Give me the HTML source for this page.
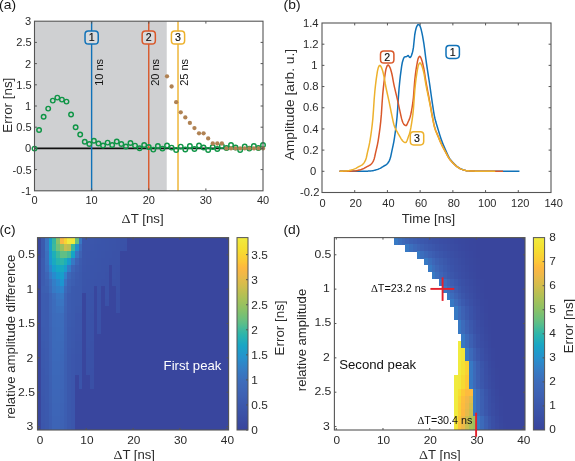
<!DOCTYPE html>
<html lang="en"><head><meta charset="utf-8"><title>Figure: peak-separation error analysis</title>
<style>html,body{margin:0;padding:0;background:#fff;}svg{display:block;}text{font-family:"Liberation Sans", sans-serif;}</style></head><body>
<svg width="575" height="461" viewBox="0 0 575 461">
<rect x="0" y="0" width="575" height="461" fill="#ffffff"/>
<text x="-0.90" y="9.40" font-size="12.6" text-anchor="start" fill="#151515" textLength="16.94" lengthAdjust="spacingAndGlyphs" >(a)</text>
<text x="283.60" y="9.40" font-size="12.6" text-anchor="start" fill="#151515" textLength="16.94" lengthAdjust="spacingAndGlyphs" >(b)</text>
<text x="-0.50" y="234.20" font-size="12.6" text-anchor="start" fill="#151515" textLength="16.16" lengthAdjust="spacingAndGlyphs" >(c)</text>
<text x="283.40" y="234.20" font-size="12.6" text-anchor="start" fill="#151515" textLength="16.94" lengthAdjust="spacingAndGlyphs" >(d)</text>
<g id="panel-a">
<rect x="34.50" y="21.20" width="132.24" height="169.60" fill="#cfd0d2" stroke="none" stroke-width="0.7" />
<line x1="34.50" y1="148.40" x2="263.00" y2="148.40" stroke="#111" stroke-width="1.6" />
<line x1="91.62" y1="21.20" x2="91.62" y2="190.80" stroke="#1072b8" stroke-width="1.4" />
<line x1="148.75" y1="21.20" x2="148.75" y2="190.80" stroke="#d9582a" stroke-width="1.4" />
<line x1="178.01" y1="21.20" x2="178.01" y2="190.80" stroke="#edb12c" stroke-width="1.4" />
<circle cx="34.50" cy="148.60" r="2.25" fill="none" stroke="#0f9546" stroke-width="1.45"/>
<circle cx="39.07" cy="130.00" r="2.25" fill="none" stroke="#0f9546" stroke-width="1.45"/>
<circle cx="43.64" cy="116.80" r="2.25" fill="none" stroke="#0f9546" stroke-width="1.45"/>
<circle cx="48.21" cy="108.60" r="2.25" fill="none" stroke="#0f9546" stroke-width="1.45"/>
<circle cx="52.78" cy="100.60" r="2.25" fill="none" stroke="#0f9546" stroke-width="1.45"/>
<circle cx="57.35" cy="97.60" r="2.25" fill="none" stroke="#0f9546" stroke-width="1.45"/>
<circle cx="61.92" cy="99.60" r="2.25" fill="none" stroke="#0f9546" stroke-width="1.45"/>
<circle cx="66.49" cy="101.60" r="2.25" fill="none" stroke="#0f9546" stroke-width="1.45"/>
<circle cx="71.06" cy="114.40" r="2.25" fill="none" stroke="#0f9546" stroke-width="1.45"/>
<circle cx="75.63" cy="127.20" r="2.25" fill="none" stroke="#0f9546" stroke-width="1.45"/>
<circle cx="80.20" cy="134.40" r="2.25" fill="none" stroke="#0f9546" stroke-width="1.45"/>
<circle cx="84.77" cy="141.80" r="2.25" fill="none" stroke="#0f9546" stroke-width="1.45"/>
<circle cx="89.34" cy="144.00" r="2.25" fill="none" stroke="#0f9546" stroke-width="1.45"/>
<circle cx="93.91" cy="140.80" r="2.25" fill="none" stroke="#0f9546" stroke-width="1.45"/>
<circle cx="98.48" cy="143.40" r="2.25" fill="none" stroke="#0f9546" stroke-width="1.45"/>
<circle cx="103.05" cy="145.40" r="2.25" fill="none" stroke="#0f9546" stroke-width="1.45"/>
<circle cx="107.62" cy="142.60" r="2.25" fill="none" stroke="#0f9546" stroke-width="1.45"/>
<circle cx="112.19" cy="145.00" r="2.25" fill="none" stroke="#0f9546" stroke-width="1.45"/>
<circle cx="116.76" cy="141.40" r="2.25" fill="none" stroke="#0f9546" stroke-width="1.45"/>
<circle cx="121.33" cy="144.00" r="2.25" fill="none" stroke="#0f9546" stroke-width="1.45"/>
<circle cx="125.90" cy="146.40" r="2.25" fill="none" stroke="#0f9546" stroke-width="1.45"/>
<circle cx="130.47" cy="143.00" r="2.25" fill="none" stroke="#0f9546" stroke-width="1.45"/>
<circle cx="135.04" cy="145.60" r="2.25" fill="none" stroke="#0f9546" stroke-width="1.45"/>
<circle cx="139.61" cy="148.20" r="2.25" fill="none" stroke="#0f9546" stroke-width="1.45"/>
<circle cx="144.18" cy="145.00" r="2.25" fill="none" stroke="#0f9546" stroke-width="1.45"/>
<circle cx="148.75" cy="147.00" r="2.25" fill="none" stroke="#0f9546" stroke-width="1.45"/>
<circle cx="153.32" cy="149.60" r="2.25" fill="none" stroke="#0f9546" stroke-width="1.45"/>
<circle cx="157.89" cy="146.00" r="2.25" fill="none" stroke="#0f9546" stroke-width="1.45"/>
<circle cx="162.46" cy="148.60" r="2.25" fill="none" stroke="#0f9546" stroke-width="1.45"/>
<circle cx="167.03" cy="145.40" r="2.25" fill="none" stroke="#0f9546" stroke-width="1.45"/>
<circle cx="171.60" cy="147.60" r="2.25" fill="none" stroke="#0f9546" stroke-width="1.45"/>
<circle cx="176.17" cy="150.00" r="2.25" fill="none" stroke="#0f9546" stroke-width="1.45"/>
<circle cx="180.74" cy="146.60" r="2.25" fill="none" stroke="#0f9546" stroke-width="1.45"/>
<circle cx="185.31" cy="149.40" r="2.25" fill="none" stroke="#0f9546" stroke-width="1.45"/>
<circle cx="189.88" cy="146.00" r="2.25" fill="none" stroke="#0f9546" stroke-width="1.45"/>
<circle cx="194.45" cy="149.00" r="2.25" fill="none" stroke="#0f9546" stroke-width="1.45"/>
<circle cx="199.02" cy="145.40" r="2.25" fill="none" stroke="#0f9546" stroke-width="1.45"/>
<circle cx="203.59" cy="147.40" r="2.25" fill="none" stroke="#0f9546" stroke-width="1.45"/>
<circle cx="208.16" cy="150.00" r="2.25" fill="none" stroke="#0f9546" stroke-width="1.45"/>
<circle cx="212.73" cy="147.00" r="2.25" fill="none" stroke="#0f9546" stroke-width="1.45"/>
<circle cx="217.30" cy="149.00" r="2.25" fill="none" stroke="#0f9546" stroke-width="1.45"/>
<circle cx="221.87" cy="146.00" r="2.25" fill="none" stroke="#0f9546" stroke-width="1.45"/>
<circle cx="226.44" cy="148.00" r="2.25" fill="none" stroke="#0f9546" stroke-width="1.45"/>
<circle cx="231.01" cy="145.00" r="2.25" fill="none" stroke="#0f9546" stroke-width="1.45"/>
<circle cx="235.58" cy="147.40" r="2.25" fill="none" stroke="#0f9546" stroke-width="1.45"/>
<circle cx="240.15" cy="150.00" r="2.25" fill="none" stroke="#0f9546" stroke-width="1.45"/>
<circle cx="244.72" cy="146.40" r="2.25" fill="none" stroke="#0f9546" stroke-width="1.45"/>
<circle cx="249.29" cy="148.60" r="2.25" fill="none" stroke="#0f9546" stroke-width="1.45"/>
<circle cx="253.86" cy="146.00" r="2.25" fill="none" stroke="#0f9546" stroke-width="1.45"/>
<circle cx="258.43" cy="148.00" r="2.25" fill="none" stroke="#0f9546" stroke-width="1.45"/>
<circle cx="263.00" cy="145.00" r="2.25" fill="none" stroke="#0f9546" stroke-width="1.45"/>
<circle cx="167.03" cy="76.32" r="2.15" fill="#b08253"/>
<circle cx="171.60" cy="86.50" r="2.15" fill="#b08253"/>
<circle cx="176.17" cy="102.18" r="2.15" fill="#b08253"/>
<circle cx="180.74" cy="112.36" r="2.15" fill="#b08253"/>
<circle cx="185.31" cy="117.45" r="2.15" fill="#b08253"/>
<circle cx="189.88" cy="122.96" r="2.15" fill="#b08253"/>
<circle cx="194.45" cy="128.05" r="2.15" fill="#b08253"/>
<circle cx="199.02" cy="133.35" r="2.15" fill="#b08253"/>
<circle cx="203.59" cy="133.35" r="2.15" fill="#b08253"/>
<circle cx="208.16" cy="138.44" r="2.15" fill="#b08253"/>
<circle cx="212.73" cy="143.52" r="2.15" fill="#b08253"/>
<circle cx="217.30" cy="143.52" r="2.15" fill="#b08253"/>
<circle cx="221.87" cy="143.52" r="2.15" fill="#b08253"/>
<circle cx="226.44" cy="148.40" r="2.15" fill="#b08253"/>
<circle cx="231.01" cy="148.40" r="2.15" fill="#b08253"/>
<circle cx="235.58" cy="148.40" r="2.15" fill="#b08253"/>
<circle cx="240.15" cy="148.40" r="2.15" fill="#b08253"/>
<circle cx="244.72" cy="148.40" r="2.15" fill="#b08253"/>
<circle cx="249.29" cy="148.40" r="2.15" fill="#b08253"/>
<circle cx="253.86" cy="148.40" r="2.15" fill="#b08253"/>
<circle cx="258.43" cy="148.40" r="2.15" fill="#b08253"/>
<circle cx="263.00" cy="148.40" r="2.15" fill="#b08253"/>
<rect x="34.50" y="21.20" width="228.50" height="169.60" fill="none" stroke="#555555" stroke-width="1.1" />
<line x1="91.62" y1="190.80" x2="91.62" y2="188.40" stroke="#555555" stroke-width="1.0" />
<line x1="91.62" y1="21.20" x2="91.62" y2="23.60" stroke="#555555" stroke-width="1.0" />
<line x1="148.75" y1="190.80" x2="148.75" y2="188.40" stroke="#555555" stroke-width="1.0" />
<line x1="148.75" y1="21.20" x2="148.75" y2="23.60" stroke="#555555" stroke-width="1.0" />
<line x1="205.88" y1="190.80" x2="205.88" y2="188.40" stroke="#555555" stroke-width="1.0" />
<line x1="205.88" y1="21.20" x2="205.88" y2="23.60" stroke="#555555" stroke-width="1.0" />
<line x1="34.50" y1="169.60" x2="36.90" y2="169.60" stroke="#555555" stroke-width="1.0" />
<line x1="263.00" y1="169.60" x2="260.60" y2="169.60" stroke="#555555" stroke-width="1.0" />
<line x1="34.50" y1="148.40" x2="36.90" y2="148.40" stroke="#555555" stroke-width="1.0" />
<line x1="263.00" y1="148.40" x2="260.60" y2="148.40" stroke="#555555" stroke-width="1.0" />
<line x1="34.50" y1="127.20" x2="36.90" y2="127.20" stroke="#555555" stroke-width="1.0" />
<line x1="263.00" y1="127.20" x2="260.60" y2="127.20" stroke="#555555" stroke-width="1.0" />
<line x1="34.50" y1="106.00" x2="36.90" y2="106.00" stroke="#555555" stroke-width="1.0" />
<line x1="263.00" y1="106.00" x2="260.60" y2="106.00" stroke="#555555" stroke-width="1.0" />
<line x1="34.50" y1="84.80" x2="36.90" y2="84.80" stroke="#555555" stroke-width="1.0" />
<line x1="263.00" y1="84.80" x2="260.60" y2="84.80" stroke="#555555" stroke-width="1.0" />
<line x1="34.50" y1="63.60" x2="36.90" y2="63.60" stroke="#555555" stroke-width="1.0" />
<line x1="263.00" y1="63.60" x2="260.60" y2="63.60" stroke="#555555" stroke-width="1.0" />
<line x1="34.50" y1="42.40" x2="36.90" y2="42.40" stroke="#555555" stroke-width="1.0" />
<line x1="263.00" y1="42.40" x2="260.60" y2="42.40" stroke="#555555" stroke-width="1.0" />
<rect x="85.03" y="31.10" width="13.20" height="12.90" fill="#d9dadc" stroke="#1072b8" stroke-width="1.5" rx="3.3" ry="3.3"/>
<text x="91.62" y="41.10" font-size="10.0" text-anchor="middle" fill="#111" textLength="5.90" lengthAdjust="spacingAndGlyphs" stroke="#111" stroke-width="0.15">1</text>
<text x="103.22" y="85.80" font-size="10" text-anchor="start" fill="#111" transform="rotate(-90 103.22 85.80)" textLength="26.80" lengthAdjust="spacingAndGlyphs" >10 ns</text>
<rect x="142.15" y="31.10" width="13.20" height="12.90" fill="#d9dadc" stroke="#d9582a" stroke-width="1.5" rx="3.3" ry="3.3"/>
<text x="148.75" y="41.10" font-size="10.0" text-anchor="middle" fill="#111" textLength="5.90" lengthAdjust="spacingAndGlyphs" stroke="#111" stroke-width="0.15">2</text>
<text x="159.25" y="85.80" font-size="10" text-anchor="start" fill="#111" transform="rotate(-90 159.25 85.80)" textLength="26.80" lengthAdjust="spacingAndGlyphs" >20 ns</text>
<rect x="171.41" y="31.10" width="13.20" height="12.90" fill="#ffffff" stroke="#edb12c" stroke-width="1.5" rx="3.3" ry="3.3"/>
<text x="178.01" y="41.10" font-size="10.0" text-anchor="middle" fill="#111" textLength="5.90" lengthAdjust="spacingAndGlyphs" stroke="#111" stroke-width="0.15">3</text>
<text x="188.31" y="85.80" font-size="10" text-anchor="start" fill="#111" transform="rotate(-90 188.31 85.80)" textLength="26.80" lengthAdjust="spacingAndGlyphs" >25 ns</text>
<text x="31.10" y="194.70" font-size="10.3" text-anchor="end" fill="#2a2a2a" textLength="9.89" lengthAdjust="spacingAndGlyphs" >-1</text>
<text x="31.80" y="173.50" font-size="10.3" text-anchor="end" fill="#2a2a2a" textLength="19.17" lengthAdjust="spacingAndGlyphs" >-0.5</text>
<text x="31.10" y="152.30" font-size="10.3" text-anchor="end" fill="#2a2a2a" textLength="6.19" lengthAdjust="spacingAndGlyphs" >0</text>
<text x="31.80" y="131.10" font-size="10.3" text-anchor="end" fill="#2a2a2a" textLength="15.46" lengthAdjust="spacingAndGlyphs" >0.5</text>
<text x="31.10" y="109.90" font-size="10.3" text-anchor="end" fill="#2a2a2a" textLength="6.19" lengthAdjust="spacingAndGlyphs" >1</text>
<text x="31.80" y="88.70" font-size="10.3" text-anchor="end" fill="#2a2a2a" textLength="15.46" lengthAdjust="spacingAndGlyphs" >1.5</text>
<text x="31.10" y="67.50" font-size="10.3" text-anchor="end" fill="#2a2a2a" textLength="6.19" lengthAdjust="spacingAndGlyphs" >2</text>
<text x="31.80" y="46.30" font-size="10.3" text-anchor="end" fill="#2a2a2a" textLength="15.46" lengthAdjust="spacingAndGlyphs" >2.5</text>
<text x="31.10" y="25.10" font-size="10.3" text-anchor="end" fill="#2a2a2a" textLength="6.19" lengthAdjust="spacingAndGlyphs" >3</text>
<text x="34.50" y="203.50" font-size="10.2" text-anchor="middle" fill="#2a2a2a" textLength="6.13" lengthAdjust="spacingAndGlyphs" >0</text>
<text x="91.62" y="203.50" font-size="10.2" text-anchor="middle" fill="#2a2a2a" textLength="12.25" lengthAdjust="spacingAndGlyphs" >10</text>
<text x="148.75" y="203.50" font-size="10.2" text-anchor="middle" fill="#2a2a2a" textLength="12.25" lengthAdjust="spacingAndGlyphs" >20</text>
<text x="205.88" y="203.50" font-size="10.2" text-anchor="middle" fill="#2a2a2a" textLength="12.25" lengthAdjust="spacingAndGlyphs" >30</text>
<text x="263.00" y="203.50" font-size="10.2" text-anchor="middle" fill="#2a2a2a" textLength="12.25" lengthAdjust="spacingAndGlyphs" >40</text>
<text x="11.60" y="105.20" font-size="12.6" text-anchor="middle" fill="#2a2a2a" transform="rotate(-90 11.60 105.20)" textLength="55.00" lengthAdjust="spacingAndGlyphs" >Error [ns]</text>
<text x="142.60" y="223.20" font-size="12.6" text-anchor="middle" fill="#2a2a2a" textLength="42.00" lengthAdjust="spacingAndGlyphs" ><tspan font-family="Liberation Serif, serif" font-size="13.4">Δ</tspan>T [ns]</text>
</g>
<g id="panel-b">
<path d="M339.50,171.31 L340.16,171.31 L340.81,171.31 L341.46,171.31 L342.12,171.31 L342.77,171.31 L343.43,171.31 L344.08,171.31 L344.74,171.31 L345.39,171.31 L346.05,171.31 L346.70,171.31 L347.35,171.31 L348.01,171.31 L348.66,171.31 L349.32,171.31 L349.97,171.31 L350.62,171.31 L351.28,171.31 L351.93,171.31 L352.59,171.31 L353.24,171.31 L353.90,171.31 L354.55,171.31 L355.21,171.31 L355.86,171.31 L356.51,171.31 L357.17,171.31 L357.82,171.31 L358.48,171.30 L359.13,171.30 L359.79,171.29 L360.44,171.29 L361.09,171.28 L361.75,171.28 L362.40,171.27 L363.06,171.26 L363.71,171.25 L364.37,171.24 L365.02,171.23 L365.67,171.21 L366.33,171.18 L366.98,171.16 L367.64,171.13 L368.29,171.10 L368.95,171.06 L369.60,171.02 L370.25,170.97 L370.91,170.93 L371.56,170.87 L372.22,170.79 L372.87,170.67 L373.53,170.53 L374.18,170.37 L374.83,170.20 L375.49,170.02 L376.14,169.84 L376.80,169.64 L377.45,169.42 L378.11,169.18 L378.76,168.92 L379.41,168.65 L380.07,168.33 L380.72,167.98 L381.38,167.60 L382.03,167.20 L382.69,166.79 L383.34,166.39 L383.99,166.02 L384.65,165.65 L385.30,165.27 L385.96,164.85 L386.61,164.36 L387.27,163.76 L387.92,163.01 L388.57,162.04 L389.23,160.84 L389.88,159.38 L390.54,157.35 L391.19,154.34 L391.85,151.08 L392.50,148.10 L393.15,145.10 L393.81,141.80 L394.46,137.92 L395.12,133.45 L395.77,128.48 L396.43,123.01 L397.08,116.63 L397.73,108.03 L398.39,97.42 L399.04,88.69 L399.70,81.83 L400.35,75.91 L401.01,70.84 L401.66,66.16 L402.31,62.50 L402.97,60.19 L403.62,58.27 L404.28,57.17 L404.93,56.86 L405.59,56.80 L406.24,56.74 L406.89,56.33 L407.55,55.72 L408.20,55.56 L408.86,56.40 L409.51,57.38 L410.17,57.58 L410.82,56.85 L411.47,55.46 L412.13,53.57 L412.78,51.10 L413.44,47.40 L414.09,41.01 L414.75,34.75 L415.40,31.14 L416.05,28.48 L416.71,26.61 L417.36,25.40 L418.02,24.54 L418.67,24.67 L419.33,25.06 L419.98,25.88 L420.63,27.64 L421.29,30.07 L421.94,32.82 L422.60,36.10 L423.25,39.90 L423.91,43.98 L424.56,48.64 L425.21,53.88 L425.87,59.02 L426.52,63.64 L427.18,68.03 L427.83,72.29 L428.49,76.51 L429.14,80.76 L429.79,85.15 L430.45,89.77 L431.10,94.50 L431.76,99.17 L432.41,103.61 L433.07,107.98 L433.72,112.13 L434.37,115.79 L435.03,118.78 L435.68,121.33 L436.34,123.63 L436.99,125.78 L437.65,127.91 L438.30,130.10 L438.95,132.27 L439.61,134.38 L440.26,136.43 L440.92,138.39 L441.57,140.25 L442.23,142.02 L442.88,143.71 L443.53,145.34 L444.19,146.91 L444.84,148.42 L445.50,149.87 L446.15,151.31 L446.81,152.77 L447.46,154.21 L448.11,155.60 L448.77,156.89 L449.42,158.05 L450.08,159.06 L450.73,159.98 L451.39,160.80 L452.04,161.54 L452.69,162.25 L453.35,162.94 L454.00,163.61 L454.66,164.27 L455.31,164.91 L455.97,165.52 L456.62,166.09 L457.27,166.61 L457.93,167.08 L458.58,167.52 L459.24,167.94 L459.89,168.34 L460.55,168.69 L461.20,169.00 L461.85,169.26 L462.51,169.51 L463.16,169.74 L463.82,169.96 L464.47,170.17 L465.13,170.35 L465.78,170.51 L466.43,170.64 L467.09,170.73 L467.74,170.79 L468.40,170.83 L469.05,170.87 L469.71,170.90 L470.36,170.94 L471.01,170.97 L471.67,171.00 L472.32,171.03 L472.98,171.06 L473.63,171.08 L474.29,171.11 L474.94,171.13 L475.59,171.15 L476.25,171.17 L476.90,171.19 L477.56,171.21 L478.21,171.23 L478.87,171.24 L479.52,171.26 L480.17,171.27 L480.83,171.28 L481.48,171.29 L482.14,171.29 L482.79,171.30 L483.45,171.31 L484.10,171.31 L484.75,171.31 L485.41,171.31 L486.06,171.31 L486.72,171.31 L487.37,171.31 L488.03,171.31 L488.68,171.31 L489.33,171.31 L489.99,171.31 L490.64,171.31 L491.30,171.31 L491.95,171.31 L492.61,171.31 L493.26,171.31 L493.91,171.31 L494.57,171.31 L495.22,171.31 L495.88,171.31 L496.53,171.31 L497.19,171.31 L497.84,171.31 L498.49,171.31 L499.15,171.31 L499.80,171.31 L500.46,171.31 L501.11,171.31 L501.77,171.31 L502.42,171.31 L503.07,171.31 L503.73,171.31 L504.38,171.31 L505.04,171.31 L505.69,171.31 L506.35,171.31 L507.00,171.31 L507.65,171.31 L508.31,171.31 L508.96,171.31 L509.62,171.31 L510.27,171.31 L510.93,171.31 L511.58,171.31 L512.23,171.31 L512.89,171.31 L513.54,171.31 L514.20,171.31 L514.85,171.31 L515.51,171.31 L516.16,171.31 L516.81,171.31 L517.47,171.31 L518.12,171.31 L518.78,171.31 L519.43,171.31" fill="none" stroke="#1072b8" stroke-width="1.5" stroke-linejoin="round" stroke-linecap="butt"/>
<path d="M339.50,171.31 L340.16,171.31 L340.81,171.31 L341.46,171.31 L342.12,171.30 L342.77,171.30 L343.43,171.29 L344.08,171.29 L344.74,171.28 L345.39,171.28 L346.05,171.27 L346.70,171.26 L347.35,171.26 L348.01,171.24 L348.66,171.23 L349.32,171.21 L349.97,171.19 L350.62,171.17 L351.28,171.14 L351.93,171.10 L352.59,171.07 L353.24,171.03 L353.90,170.99 L354.55,170.94 L355.21,170.89 L355.86,170.82 L356.51,170.71 L357.17,170.57 L357.82,170.42 L358.48,170.25 L359.13,170.08 L359.79,169.91 L360.44,169.72 L361.09,169.51 L361.75,169.28 L362.40,169.03 L363.06,168.77 L363.71,168.48 L364.37,168.14 L365.02,167.78 L365.67,167.41 L366.33,167.03 L366.98,166.65 L367.64,166.30 L368.29,165.97 L368.95,165.64 L369.60,165.27 L370.25,164.84 L370.91,164.32 L371.56,163.67 L372.22,162.85 L372.87,161.83 L373.53,160.58 L374.18,158.93 L374.83,156.28 L375.49,153.18 L376.14,150.30 L376.80,147.54 L377.45,144.55 L378.11,141.06 L378.76,136.98 L379.41,132.39 L380.07,127.37 L380.72,121.62 L381.38,114.13 L382.03,104.02 L382.69,94.90 L383.34,88.12 L383.99,82.28 L384.65,77.32 L385.30,72.86 L385.96,69.20 L386.61,67.10 L387.27,65.58 L387.92,64.90 L388.57,65.26 L389.23,66.19 L389.88,67.33 L390.54,69.05 L391.19,71.24 L391.85,73.73 L392.50,76.95 L393.15,80.61 L393.81,84.06 L394.46,87.07 L395.12,89.90 L395.77,92.64 L396.43,95.33 L397.08,98.07 L397.73,100.95 L398.39,104.00 L399.04,107.12 L399.70,110.19 L400.35,113.13 L401.01,116.11 L401.66,118.89 L402.31,121.16 L402.97,122.75 L403.62,123.91 L404.28,124.70 L404.93,125.21 L405.59,125.54 L406.24,125.63 L406.89,124.74 L407.55,123.20 L408.20,121.72 L408.86,120.40 L409.51,118.89 L410.17,116.87 L410.82,114.20 L411.47,110.98 L412.13,107.28 L412.78,102.98 L413.44,97.35 L414.09,88.87 L414.75,80.37 L415.40,74.49 L416.05,69.61 L416.71,65.56 L417.36,62.02 L418.02,58.96 L418.67,57.36 L419.33,56.50 L419.98,56.32 L420.63,57.21 L421.29,58.81 L421.94,60.66 L422.60,63.01 L423.25,65.87 L423.91,69.02 L424.56,72.74 L425.21,77.04 L425.87,81.26 L426.52,84.99 L427.18,88.51 L427.83,91.90 L428.49,95.24 L429.14,98.59 L429.79,102.02 L430.45,105.65 L431.10,109.37 L431.76,113.03 L432.41,116.51 L433.07,119.99 L433.72,123.34 L434.37,126.28 L435.03,128.57 L435.68,130.44 L436.34,132.08 L436.99,133.61 L437.65,135.14 L438.30,136.73 L438.95,138.31 L439.61,139.86 L440.26,141.38 L440.92,142.85 L441.57,144.27 L442.23,145.63 L442.88,146.93 L443.53,148.20 L444.19,149.43 L444.84,150.64 L445.50,151.85 L446.15,153.07 L446.81,154.31 L447.46,155.55 L448.11,156.75 L448.77,157.87 L449.42,158.88 L450.08,159.76 L450.73,160.58 L451.39,161.33 L452.04,162.04 L452.69,162.72 L453.35,163.37 L454.00,164.00 L454.66,164.63 L455.31,165.24 L455.97,165.81 L456.62,166.36 L457.27,166.85 L457.93,167.29 L458.58,167.71 L459.24,168.11 L459.89,168.48 L460.55,168.82 L461.20,169.11 L461.85,169.36 L462.51,169.59 L463.16,169.81 L463.82,170.02 L464.47,170.21 L465.13,170.38 L465.78,170.53 L466.43,170.65 L467.09,170.74 L467.74,170.79 L468.40,170.83 L469.05,170.87 L469.71,170.90 L470.36,170.94 L471.01,170.97 L471.67,171.00 L472.32,171.03 L472.98,171.06 L473.63,171.08 L474.29,171.11 L474.94,171.13 L475.59,171.15 L476.25,171.17 L476.90,171.19 L477.56,171.21 L478.21,171.23 L478.87,171.24 L479.52,171.26 L480.17,171.27 L480.83,171.28 L481.48,171.29 L482.14,171.29 L482.79,171.30 L483.45,171.31 L484.10,171.31 L484.75,171.31 L485.41,171.31 L486.06,171.31 L486.72,171.31 L487.37,171.31 L488.03,171.31 L488.68,171.31 L489.33,171.31 L489.99,171.31 L490.64,171.31 L491.30,171.31 L491.95,171.31 L492.61,171.31 L493.26,171.31 L493.91,171.31 L494.57,171.31 L495.22,171.31 L495.88,171.31 L496.53,171.31 L497.19,171.31 L497.84,171.31 L498.49,171.31 L499.15,171.31 L499.80,171.31 L500.46,171.31 L501.11,171.31 L501.77,171.31 L502.42,171.31 L503.07,171.31" fill="none" stroke="#d9582a" stroke-width="1.5" stroke-linejoin="round" stroke-linecap="butt"/>
<path d="M339.50,171.25 L340.16,171.24 L340.81,171.22 L341.46,171.20 L342.12,171.18 L342.77,171.15 L343.43,171.12 L344.08,171.09 L344.74,171.05 L345.39,171.01 L346.05,170.96 L346.70,170.91 L347.35,170.86 L348.01,170.77 L348.66,170.64 L349.32,170.50 L349.97,170.34 L350.62,170.17 L351.28,170.00 L351.93,169.82 L352.59,169.61 L353.24,169.40 L353.90,169.16 L354.55,168.90 L355.21,168.63 L355.86,168.31 L356.51,167.97 L357.17,167.60 L357.82,167.22 L358.48,166.84 L359.13,166.47 L359.79,166.14 L360.44,165.81 L361.09,165.46 L361.75,165.06 L362.40,164.59 L363.06,164.02 L363.71,163.29 L364.37,162.37 L365.02,161.24 L365.67,159.87 L366.33,157.72 L366.98,154.75 L367.64,151.71 L368.29,148.96 L368.95,146.12 L369.60,142.92 L370.25,139.13 L370.91,134.80 L371.56,130.00 L372.22,124.70 L372.87,118.34 L373.53,109.31 L374.18,99.19 L374.83,91.53 L375.49,85.25 L376.14,79.89 L376.80,75.28 L377.45,71.12 L378.11,68.30 L378.76,66.60 L379.41,65.48 L380.07,65.44 L380.72,66.24 L381.38,67.40 L382.03,68.93 L382.69,71.06 L383.34,73.55 L383.99,76.49 L384.65,80.18 L385.30,83.99 L385.96,87.37 L386.61,90.48 L387.27,93.48 L387.92,96.43 L388.57,99.37 L389.23,102.40 L389.88,105.60 L390.54,108.93 L391.19,112.24 L391.85,115.40 L392.50,118.50 L393.15,121.56 L393.81,124.28 L394.46,126.40 L395.12,128.04 L395.77,129.41 L396.43,130.60 L397.08,131.73 L397.73,132.90 L398.39,134.07 L399.04,135.22 L399.70,136.36 L400.35,137.48 L401.01,138.56 L401.66,139.55 L402.31,140.43 L402.97,141.19 L403.62,141.80 L404.28,142.22 L404.93,142.44 L405.59,142.45 L406.24,142.21 L406.89,141.01 L407.55,139.16 L408.20,137.34 L408.86,135.62 L409.51,133.62 L410.17,131.11 L410.82,127.94 L411.47,124.20 L412.13,119.97 L412.78,115.13 L413.44,108.95 L414.09,99.89 L414.75,90.77 L415.40,84.25 L416.05,78.76 L416.71,74.12 L417.36,70.07 L418.02,66.58 L418.67,64.60 L419.33,63.38 L419.98,62.84 L420.63,63.38 L421.29,64.59 L421.94,66.03 L422.60,67.98 L423.25,70.45 L423.91,73.23 L424.56,76.60 L425.21,80.58 L425.87,84.48 L426.52,87.90 L427.18,91.08 L427.83,94.15 L428.49,97.20 L429.14,100.31 L429.79,103.54 L430.45,106.97 L431.10,110.50 L431.76,113.99 L432.41,117.30 L433.07,120.64 L433.72,123.88 L434.37,126.73 L435.03,128.96 L435.68,130.81 L436.34,132.43 L436.99,133.94 L437.65,135.45 L438.30,137.03 L438.95,138.59 L439.61,140.12 L440.26,141.62 L440.92,143.07 L441.57,144.47 L442.23,145.81 L442.88,147.10 L443.53,148.34 L444.19,149.56 L444.84,150.76 L445.50,151.95 L446.15,153.15 L446.81,154.38 L447.46,155.61 L448.11,156.79 L448.77,157.90 L449.42,158.90 L450.08,159.78 L450.73,160.59 L451.39,161.34 L452.04,162.04 L452.69,162.72 L453.35,163.37 L454.00,164.00 L454.66,164.63 L455.31,165.24 L455.97,165.81 L456.62,166.36 L457.27,166.85 L457.93,167.29 L458.58,167.71 L459.24,168.11 L459.89,168.48 L460.55,168.82 L461.20,169.11 L461.85,169.36 L462.51,169.59 L463.16,169.81 L463.82,170.02 L464.47,170.21 L465.13,170.38 L465.78,170.53 L466.43,170.65 L467.09,170.74 L467.74,170.79 L468.40,170.83 L469.05,170.87 L469.71,170.90 L470.36,170.94 L471.01,170.97 L471.67,171.00 L472.32,171.03 L472.98,171.06 L473.63,171.08 L474.29,171.11 L474.94,171.13 L475.59,171.15 L476.25,171.17 L476.90,171.19 L477.56,171.21 L478.21,171.23 L478.87,171.24 L479.52,171.26 L480.17,171.27 L480.83,171.28 L481.48,171.29 L482.14,171.29 L482.79,171.30 L483.45,171.31 L484.10,171.31 L484.75,171.31 L485.41,171.31 L486.06,171.31 L486.72,171.31 L487.37,171.31 L488.03,171.31 L488.68,171.31 L489.33,171.31 L489.99,171.31 L490.64,171.31 L491.30,171.31 L491.95,171.31 L492.61,171.31 L493.26,171.31 L493.91,171.31 L494.57,171.31 L495.22,171.31" fill="none" stroke="#edb12c" stroke-width="1.5" stroke-linejoin="round" stroke-linecap="butt"/>
<rect x="322.00" y="23.00" width="229.00" height="169.50" fill="none" stroke="#555555" stroke-width="1.1" />
<line x1="354.71" y1="192.50" x2="354.71" y2="190.10" stroke="#555555" stroke-width="1.0" />
<line x1="354.71" y1="23.00" x2="354.71" y2="25.40" stroke="#555555" stroke-width="1.0" />
<line x1="387.43" y1="192.50" x2="387.43" y2="190.10" stroke="#555555" stroke-width="1.0" />
<line x1="387.43" y1="23.00" x2="387.43" y2="25.40" stroke="#555555" stroke-width="1.0" />
<line x1="420.14" y1="192.50" x2="420.14" y2="190.10" stroke="#555555" stroke-width="1.0" />
<line x1="420.14" y1="23.00" x2="420.14" y2="25.40" stroke="#555555" stroke-width="1.0" />
<line x1="452.86" y1="192.50" x2="452.86" y2="190.10" stroke="#555555" stroke-width="1.0" />
<line x1="452.86" y1="23.00" x2="452.86" y2="25.40" stroke="#555555" stroke-width="1.0" />
<line x1="485.57" y1="192.50" x2="485.57" y2="190.10" stroke="#555555" stroke-width="1.0" />
<line x1="485.57" y1="23.00" x2="485.57" y2="25.40" stroke="#555555" stroke-width="1.0" />
<line x1="518.29" y1="192.50" x2="518.29" y2="190.10" stroke="#555555" stroke-width="1.0" />
<line x1="518.29" y1="23.00" x2="518.29" y2="25.40" stroke="#555555" stroke-width="1.0" />
<line x1="322.00" y1="171.31" x2="324.40" y2="171.31" stroke="#555555" stroke-width="1.0" />
<line x1="551.00" y1="171.31" x2="548.60" y2="171.31" stroke="#555555" stroke-width="1.0" />
<line x1="322.00" y1="150.12" x2="324.40" y2="150.12" stroke="#555555" stroke-width="1.0" />
<line x1="551.00" y1="150.12" x2="548.60" y2="150.12" stroke="#555555" stroke-width="1.0" />
<line x1="322.00" y1="128.94" x2="324.40" y2="128.94" stroke="#555555" stroke-width="1.0" />
<line x1="551.00" y1="128.94" x2="548.60" y2="128.94" stroke="#555555" stroke-width="1.0" />
<line x1="322.00" y1="107.75" x2="324.40" y2="107.75" stroke="#555555" stroke-width="1.0" />
<line x1="551.00" y1="107.75" x2="548.60" y2="107.75" stroke="#555555" stroke-width="1.0" />
<line x1="322.00" y1="86.56" x2="324.40" y2="86.56" stroke="#555555" stroke-width="1.0" />
<line x1="551.00" y1="86.56" x2="548.60" y2="86.56" stroke="#555555" stroke-width="1.0" />
<line x1="322.00" y1="65.37" x2="324.40" y2="65.37" stroke="#555555" stroke-width="1.0" />
<line x1="551.00" y1="65.37" x2="548.60" y2="65.37" stroke="#555555" stroke-width="1.0" />
<line x1="322.00" y1="44.19" x2="324.40" y2="44.19" stroke="#555555" stroke-width="1.0" />
<line x1="551.00" y1="44.19" x2="548.60" y2="44.19" stroke="#555555" stroke-width="1.0" />
<rect x="446.00" y="45.40" width="13.40" height="13.00" fill="#fff" stroke="#1072b8" stroke-width="1.5" rx="3.3" ry="3.3"/>
<text x="452.70" y="55.50" font-size="10.0" text-anchor="middle" fill="#111" textLength="5.90" lengthAdjust="spacingAndGlyphs" stroke="#111" stroke-width="0.15">1</text>
<rect x="380.50" y="50.90" width="13.40" height="12.20" fill="#fff" stroke="#d9582a" stroke-width="1.5" rx="3.3" ry="3.3"/>
<text x="387.20" y="60.60" font-size="10.0" text-anchor="middle" fill="#111" textLength="5.90" lengthAdjust="spacingAndGlyphs" stroke="#111" stroke-width="0.15">2</text>
<rect x="410.30" y="131.70" width="13.40" height="13.20" fill="#fff" stroke="#edb12c" stroke-width="1.5" rx="3.3" ry="3.3"/>
<text x="417.00" y="141.90" font-size="10.0" text-anchor="middle" fill="#111" textLength="5.90" lengthAdjust="spacingAndGlyphs" stroke="#111" stroke-width="0.15">3</text>
<text x="319.40" y="196.20" font-size="10.6" text-anchor="end" fill="#2a2a2a" textLength="19.36" lengthAdjust="spacingAndGlyphs" >-0.2</text>
<text x="316.20" y="175.01" font-size="10.6" text-anchor="end" fill="#2a2a2a" textLength="6.25" lengthAdjust="spacingAndGlyphs" >0</text>
<text x="318.60" y="153.82" font-size="10.6" text-anchor="end" fill="#2a2a2a" textLength="15.62" lengthAdjust="spacingAndGlyphs" >0.2</text>
<text x="318.60" y="132.64" font-size="10.6" text-anchor="end" fill="#2a2a2a" textLength="15.62" lengthAdjust="spacingAndGlyphs" >0.4</text>
<text x="318.60" y="111.45" font-size="10.6" text-anchor="end" fill="#2a2a2a" textLength="15.62" lengthAdjust="spacingAndGlyphs" >0.6</text>
<text x="318.60" y="90.26" font-size="10.6" text-anchor="end" fill="#2a2a2a" textLength="15.62" lengthAdjust="spacingAndGlyphs" >0.8</text>
<text x="317.40" y="69.07" font-size="10.6" text-anchor="end" fill="#2a2a2a" textLength="6.25" lengthAdjust="spacingAndGlyphs" >1</text>
<text x="318.60" y="47.89" font-size="10.6" text-anchor="end" fill="#2a2a2a" textLength="15.62" lengthAdjust="spacingAndGlyphs" >1.2</text>
<text x="318.60" y="26.70" font-size="10.6" text-anchor="end" fill="#2a2a2a" textLength="15.62" lengthAdjust="spacingAndGlyphs" >1.4</text>
<text x="322.70" y="206.70" font-size="10.2" text-anchor="middle" fill="#2a2a2a" textLength="6.13" lengthAdjust="spacingAndGlyphs" >0</text>
<text x="355.71" y="206.70" font-size="10.2" text-anchor="middle" fill="#2a2a2a" textLength="12.25" lengthAdjust="spacingAndGlyphs" >20</text>
<text x="388.43" y="206.70" font-size="10.2" text-anchor="middle" fill="#2a2a2a" textLength="12.25" lengthAdjust="spacingAndGlyphs" >40</text>
<text x="421.14" y="206.70" font-size="10.2" text-anchor="middle" fill="#2a2a2a" textLength="12.25" lengthAdjust="spacingAndGlyphs" >60</text>
<text x="453.86" y="206.70" font-size="10.2" text-anchor="middle" fill="#2a2a2a" textLength="12.25" lengthAdjust="spacingAndGlyphs" >80</text>
<text x="487.27" y="206.70" font-size="10.2" text-anchor="middle" fill="#2a2a2a" textLength="18.38" lengthAdjust="spacingAndGlyphs" >100</text>
<text x="520.29" y="206.70" font-size="10.2" text-anchor="middle" fill="#2a2a2a" textLength="18.38" lengthAdjust="spacingAndGlyphs" >120</text>
<text x="553.60" y="206.70" font-size="10.2" text-anchor="middle" fill="#2a2a2a" textLength="18.38" lengthAdjust="spacingAndGlyphs" >140</text>
<text x="294.50" y="104.60" font-size="12.6" text-anchor="middle" fill="#2a2a2a" transform="rotate(-90 294.50 104.60)" textLength="111.40" lengthAdjust="spacingAndGlyphs" >Amplitude [arb. u.]</text>
<text x="428.50" y="222.50" font-size="12.6" text-anchor="middle" fill="#2a2a2a" textLength="53.30" lengthAdjust="spacingAndGlyphs" >Time [ns]</text>
</g>
<g id="heat-c" shape-rendering="crispEdges">
<rect x="37.50" y="237.60" width="4.10" height="7.22" fill="#39479e"/>
<rect x="41.25" y="237.60" width="4.10" height="7.22" fill="#3b5aae"/>
<rect x="44.99" y="237.60" width="4.10" height="7.22" fill="#3a74c1"/>
<rect x="48.74" y="237.60" width="4.10" height="7.22" fill="#179fcb"/>
<rect x="52.49" y="237.60" width="4.10" height="7.22" fill="#35b7a2"/>
<rect x="56.24" y="237.60" width="4.10" height="7.22" fill="#8ac167"/>
<rect x="59.98" y="237.60" width="4.10" height="7.22" fill="#f9b842"/>
<rect x="63.73" y="237.60" width="4.10" height="7.22" fill="#f8d532"/>
<rect x="67.48" y="237.60" width="4.10" height="7.22" fill="#f0eb3e"/>
<rect x="71.22" y="237.60" width="4.10" height="7.22" fill="#f1e93c"/>
<rect x="74.97" y="237.60" width="4.10" height="7.22" fill="#69bf7f"/>
<rect x="78.72" y="237.60" width="4.10" height="7.22" fill="#3877c3"/>
<rect x="82.46" y="237.60" width="4.10" height="7.22" fill="#3b56ac"/>
<rect x="86.21" y="237.60" width="7.84" height="7.22" fill="#3b56ab"/>
<rect x="93.71" y="237.60" width="4.10" height="7.22" fill="#3b55aa"/>
<rect x="97.45" y="237.60" width="4.10" height="7.22" fill="#3a55aa"/>
<rect x="101.20" y="237.60" width="4.10" height="7.22" fill="#3a54aa"/>
<rect x="104.95" y="237.60" width="4.10" height="7.22" fill="#3a54a9"/>
<rect x="108.69" y="237.60" width="7.84" height="7.22" fill="#3a53a9"/>
<rect x="116.19" y="237.60" width="11.59" height="7.22" fill="#3a52a8"/>
<rect x="127.43" y="237.60" width="101.52" height="7.22" fill="#39469e"/>
<rect x="37.50" y="244.47" width="4.10" height="7.22" fill="#39479e"/>
<rect x="41.25" y="244.47" width="4.10" height="7.22" fill="#3b5aae"/>
<rect x="44.99" y="244.47" width="4.10" height="7.22" fill="#3a74c1"/>
<rect x="48.74" y="244.47" width="4.10" height="7.22" fill="#179fcb"/>
<rect x="52.49" y="244.47" width="4.10" height="7.22" fill="#3cb99c"/>
<rect x="56.24" y="244.47" width="4.10" height="7.22" fill="#71c079"/>
<rect x="59.98" y="244.47" width="4.10" height="7.22" fill="#98c160"/>
<rect x="63.73" y="244.47" width="4.10" height="7.22" fill="#c8be4f"/>
<rect x="67.48" y="244.47" width="4.10" height="7.22" fill="#bdbf52"/>
<rect x="71.22" y="244.47" width="4.10" height="7.22" fill="#3cb99c"/>
<rect x="74.97" y="244.47" width="4.10" height="7.22" fill="#238fce"/>
<rect x="78.72" y="244.47" width="4.10" height="7.22" fill="#3c69ba"/>
<rect x="82.46" y="244.47" width="7.84" height="7.22" fill="#3b56ab"/>
<rect x="89.96" y="244.47" width="4.10" height="7.22" fill="#3b55ab"/>
<rect x="93.71" y="244.47" width="4.10" height="7.22" fill="#3a55aa"/>
<rect x="97.45" y="244.47" width="7.84" height="7.22" fill="#3a54aa"/>
<rect x="104.95" y="244.47" width="4.10" height="7.22" fill="#3a54a9"/>
<rect x="108.69" y="244.47" width="4.10" height="7.22" fill="#3a53a9"/>
<rect x="112.44" y="244.47" width="4.10" height="7.22" fill="#3a53a8"/>
<rect x="116.19" y="244.47" width="7.84" height="7.22" fill="#3a52a8"/>
<rect x="123.68" y="244.47" width="4.10" height="7.22" fill="#3a51a8"/>
<rect x="127.43" y="244.47" width="101.52" height="7.22" fill="#39469e"/>
<rect x="37.50" y="251.34" width="4.10" height="7.22" fill="#39479e"/>
<rect x="41.25" y="251.34" width="4.10" height="7.22" fill="#3b5aae"/>
<rect x="44.99" y="251.34" width="4.10" height="7.22" fill="#3b70be"/>
<rect x="48.74" y="251.34" width="4.10" height="7.22" fill="#1a99ce"/>
<rect x="52.49" y="251.34" width="4.10" height="7.22" fill="#1dafb8"/>
<rect x="56.24" y="251.34" width="4.10" height="7.22" fill="#3cb99c"/>
<rect x="59.98" y="251.34" width="7.84" height="7.22" fill="#60bf85"/>
<rect x="67.48" y="251.34" width="4.10" height="7.22" fill="#49bb94"/>
<rect x="71.22" y="251.34" width="4.10" height="7.22" fill="#14a5c7"/>
<rect x="74.97" y="251.34" width="4.10" height="7.22" fill="#3a74c1"/>
<rect x="78.72" y="251.34" width="4.10" height="7.22" fill="#3d62b4"/>
<rect x="82.46" y="251.34" width="4.10" height="7.22" fill="#3b56ab"/>
<rect x="86.21" y="251.34" width="4.10" height="7.22" fill="#3b55ab"/>
<rect x="89.96" y="251.34" width="7.84" height="7.22" fill="#3a55aa"/>
<rect x="97.45" y="251.34" width="4.10" height="7.22" fill="#3a54aa"/>
<rect x="101.20" y="251.34" width="4.10" height="7.22" fill="#3a54a9"/>
<rect x="104.95" y="251.34" width="7.84" height="7.22" fill="#3a53a9"/>
<rect x="112.44" y="251.34" width="7.84" height="7.22" fill="#3a52a8"/>
<rect x="119.94" y="251.34" width="109.01" height="7.22" fill="#39469e"/>
<rect x="37.50" y="258.21" width="4.10" height="7.22" fill="#3949a0"/>
<rect x="41.25" y="258.21" width="4.10" height="7.22" fill="#3c5cb0"/>
<rect x="44.99" y="258.21" width="4.10" height="7.22" fill="#3b6fbe"/>
<rect x="48.74" y="258.21" width="4.10" height="7.22" fill="#1c96d0"/>
<rect x="52.49" y="258.21" width="4.10" height="7.22" fill="#19aac0"/>
<rect x="56.24" y="258.21" width="4.10" height="7.22" fill="#26b3af"/>
<rect x="59.98" y="258.21" width="4.10" height="7.22" fill="#2db5a9"/>
<rect x="63.73" y="258.21" width="4.10" height="7.22" fill="#1dafb8"/>
<rect x="67.48" y="258.21" width="4.10" height="7.22" fill="#199ccd"/>
<rect x="71.22" y="258.21" width="4.10" height="7.22" fill="#3778c4"/>
<rect x="74.97" y="258.21" width="4.10" height="7.22" fill="#3d64b6"/>
<rect x="78.72" y="258.21" width="4.10" height="7.22" fill="#3c5baf"/>
<rect x="82.46" y="258.21" width="4.10" height="7.22" fill="#3b56ab"/>
<rect x="86.21" y="258.21" width="4.10" height="7.22" fill="#3b55aa"/>
<rect x="89.96" y="258.21" width="4.10" height="7.22" fill="#3a55aa"/>
<rect x="93.71" y="258.21" width="4.10" height="7.22" fill="#3a54aa"/>
<rect x="97.45" y="258.21" width="4.10" height="7.22" fill="#3a54a9"/>
<rect x="101.20" y="258.21" width="7.84" height="7.22" fill="#3a53a9"/>
<rect x="108.69" y="258.21" width="11.59" height="7.22" fill="#3a52a8"/>
<rect x="119.94" y="258.21" width="109.01" height="7.22" fill="#39469e"/>
<rect x="37.50" y="265.09" width="4.10" height="7.22" fill="#3949a0"/>
<rect x="41.25" y="265.09" width="4.10" height="7.22" fill="#3c5cb0"/>
<rect x="44.99" y="265.09" width="4.10" height="7.22" fill="#3c6cbc"/>
<rect x="48.74" y="265.09" width="4.10" height="7.22" fill="#2c86cc"/>
<rect x="52.49" y="265.09" width="4.10" height="7.22" fill="#189ecc"/>
<rect x="56.24" y="265.09" width="4.10" height="7.22" fill="#16a8c4"/>
<rect x="59.98" y="265.09" width="4.10" height="7.22" fill="#18a9c1"/>
<rect x="63.73" y="265.09" width="4.10" height="7.22" fill="#189ecc"/>
<rect x="67.48" y="265.09" width="4.10" height="7.22" fill="#347cc7"/>
<rect x="71.22" y="265.09" width="4.10" height="7.22" fill="#3d65b7"/>
<rect x="74.97" y="265.09" width="4.10" height="7.22" fill="#3c5eb1"/>
<rect x="78.72" y="265.09" width="4.10" height="7.22" fill="#3b5aae"/>
<rect x="82.46" y="265.09" width="4.10" height="7.22" fill="#3b55ab"/>
<rect x="86.21" y="265.09" width="4.10" height="7.22" fill="#3a55aa"/>
<rect x="89.96" y="265.09" width="7.84" height="7.22" fill="#3a54aa"/>
<rect x="97.45" y="265.09" width="4.10" height="7.22" fill="#3a54a9"/>
<rect x="101.20" y="265.09" width="4.10" height="7.22" fill="#3a53a9"/>
<rect x="104.95" y="265.09" width="4.10" height="7.22" fill="#3a53a8"/>
<rect x="108.69" y="265.09" width="4.10" height="7.22" fill="#39469e"/>
<rect x="112.44" y="265.09" width="4.10" height="7.22" fill="#3a52a8"/>
<rect x="116.19" y="265.09" width="4.10" height="7.22" fill="#3a51a8"/>
<rect x="119.94" y="265.09" width="109.01" height="7.22" fill="#39469e"/>
<rect x="37.50" y="271.96" width="4.10" height="7.22" fill="#3949a0"/>
<rect x="41.25" y="271.96" width="4.10" height="7.22" fill="#3c5cb0"/>
<rect x="44.99" y="271.96" width="4.10" height="7.22" fill="#3d65b7"/>
<rect x="48.74" y="271.96" width="4.10" height="7.22" fill="#367ac5"/>
<rect x="52.49" y="271.96" width="4.10" height="7.22" fill="#278bce"/>
<rect x="56.24" y="271.96" width="4.10" height="7.22" fill="#1a99ce"/>
<rect x="59.98" y="271.96" width="4.10" height="7.22" fill="#179fcb"/>
<rect x="63.73" y="271.96" width="4.10" height="7.22" fill="#3081ca"/>
<rect x="67.48" y="271.96" width="4.10" height="7.22" fill="#3c67b8"/>
<rect x="71.22" y="271.96" width="4.10" height="7.22" fill="#3c60b2"/>
<rect x="74.97" y="271.96" width="4.10" height="7.22" fill="#3c5baf"/>
<rect x="78.72" y="271.96" width="4.10" height="7.22" fill="#3b59ad"/>
<rect x="82.46" y="271.96" width="7.84" height="7.22" fill="#3a55aa"/>
<rect x="89.96" y="271.96" width="4.10" height="7.22" fill="#3a54aa"/>
<rect x="93.71" y="271.96" width="4.10" height="7.22" fill="#3a54a9"/>
<rect x="97.45" y="271.96" width="7.84" height="7.22" fill="#3a53a9"/>
<rect x="104.95" y="271.96" width="4.10" height="7.22" fill="#3a52a8"/>
<rect x="108.69" y="271.96" width="4.10" height="7.22" fill="#39469e"/>
<rect x="112.44" y="271.96" width="4.10" height="7.22" fill="#3a52a8"/>
<rect x="116.19" y="271.96" width="4.10" height="7.22" fill="#3a51a7"/>
<rect x="119.94" y="271.96" width="109.01" height="7.22" fill="#39469e"/>
<rect x="37.50" y="278.83" width="4.10" height="7.22" fill="#39489f"/>
<rect x="41.25" y="278.83" width="4.10" height="7.22" fill="#3c5cb0"/>
<rect x="44.99" y="278.83" width="4.10" height="7.22" fill="#3d62b4"/>
<rect x="48.74" y="278.83" width="4.10" height="7.22" fill="#3b6ebd"/>
<rect x="52.49" y="278.83" width="4.10" height="7.22" fill="#337ec7"/>
<rect x="56.24" y="278.83" width="4.10" height="7.22" fill="#2a88cd"/>
<rect x="59.98" y="278.83" width="4.10" height="7.22" fill="#1c96d0"/>
<rect x="63.73" y="278.83" width="4.10" height="7.22" fill="#3a72c0"/>
<rect x="67.48" y="278.83" width="4.10" height="7.22" fill="#3d62b4"/>
<rect x="71.22" y="278.83" width="4.10" height="7.22" fill="#3c5eb1"/>
<rect x="74.97" y="278.83" width="4.10" height="7.22" fill="#3b5aae"/>
<rect x="78.72" y="278.83" width="4.10" height="7.22" fill="#3b59ad"/>
<rect x="82.46" y="278.83" width="4.10" height="7.22" fill="#3a55aa"/>
<rect x="86.21" y="278.83" width="4.10" height="7.22" fill="#3a54aa"/>
<rect x="89.96" y="278.83" width="4.10" height="7.22" fill="#3a54a9"/>
<rect x="93.71" y="278.83" width="7.84" height="7.22" fill="#3a53a9"/>
<rect x="101.20" y="278.83" width="7.84" height="7.22" fill="#3a52a8"/>
<rect x="108.69" y="278.83" width="4.10" height="7.22" fill="#39469e"/>
<rect x="112.44" y="278.83" width="7.84" height="7.22" fill="#3a51a7"/>
<rect x="119.94" y="278.83" width="109.01" height="7.22" fill="#39469e"/>
<rect x="37.50" y="285.70" width="4.10" height="7.22" fill="#39479e"/>
<rect x="41.25" y="285.70" width="4.10" height="7.22" fill="#3c5eb1"/>
<rect x="44.99" y="285.70" width="4.10" height="7.22" fill="#3c60b2"/>
<rect x="48.74" y="285.70" width="4.10" height="7.22" fill="#3c6bbb"/>
<rect x="52.49" y="285.70" width="4.10" height="7.22" fill="#367ac5"/>
<rect x="56.24" y="285.70" width="4.10" height="7.22" fill="#3180c9"/>
<rect x="59.98" y="285.70" width="4.10" height="7.22" fill="#2e84cc"/>
<rect x="63.73" y="285.70" width="4.10" height="7.22" fill="#3c69ba"/>
<rect x="67.48" y="285.70" width="4.10" height="7.22" fill="#3c60b2"/>
<rect x="71.22" y="285.70" width="4.10" height="7.22" fill="#3b5aae"/>
<rect x="74.97" y="285.70" width="7.84" height="7.22" fill="#3b59ad"/>
<rect x="82.46" y="285.70" width="7.84" height="7.22" fill="#3a54aa"/>
<rect x="89.96" y="285.70" width="4.10" height="7.22" fill="#3a54a9"/>
<rect x="93.71" y="285.70" width="4.10" height="7.22" fill="#39469e"/>
<rect x="97.45" y="285.70" width="4.10" height="7.22" fill="#3a53a8"/>
<rect x="101.20" y="285.70" width="4.10" height="7.22" fill="#39469e"/>
<rect x="104.95" y="285.70" width="4.10" height="7.22" fill="#3a52a8"/>
<rect x="108.69" y="285.70" width="7.84" height="7.22" fill="#39469e"/>
<rect x="116.19" y="285.70" width="4.10" height="7.22" fill="#3a51a7"/>
<rect x="119.94" y="285.70" width="109.01" height="7.22" fill="#39469e"/>
<rect x="37.50" y="292.57" width="4.10" height="7.22" fill="#39479e"/>
<rect x="41.25" y="292.57" width="7.84" height="7.22" fill="#3c5cb0"/>
<rect x="48.74" y="292.57" width="4.10" height="7.22" fill="#3d65b7"/>
<rect x="52.49" y="292.57" width="4.10" height="7.22" fill="#3b6ebd"/>
<rect x="56.24" y="292.57" width="4.10" height="7.22" fill="#3976c3"/>
<rect x="59.98" y="292.57" width="4.10" height="7.22" fill="#3779c4"/>
<rect x="63.73" y="292.57" width="4.10" height="7.22" fill="#3d64b6"/>
<rect x="67.48" y="292.57" width="4.10" height="7.22" fill="#3c5cb0"/>
<rect x="71.22" y="292.57" width="4.10" height="7.22" fill="#3b5aae"/>
<rect x="74.97" y="292.57" width="7.84" height="7.22" fill="#3b59ad"/>
<rect x="82.46" y="292.57" width="4.10" height="7.22" fill="#39469e"/>
<rect x="86.21" y="292.57" width="4.10" height="7.22" fill="#3a54a9"/>
<rect x="89.96" y="292.57" width="4.10" height="7.22" fill="#3a53a9"/>
<rect x="93.71" y="292.57" width="4.10" height="7.22" fill="#39469e"/>
<rect x="97.45" y="292.57" width="4.10" height="7.22" fill="#3a52a8"/>
<rect x="101.20" y="292.57" width="4.10" height="7.22" fill="#39469e"/>
<rect x="104.95" y="292.57" width="4.10" height="7.22" fill="#3a52a8"/>
<rect x="108.69" y="292.57" width="7.84" height="7.22" fill="#39469e"/>
<rect x="116.19" y="292.57" width="4.10" height="7.22" fill="#3a50a7"/>
<rect x="119.94" y="292.57" width="109.01" height="7.22" fill="#39469e"/>
<rect x="37.50" y="299.44" width="4.10" height="7.22" fill="#39479e"/>
<rect x="41.25" y="299.44" width="7.84" height="7.22" fill="#3c5cb0"/>
<rect x="48.74" y="299.44" width="4.10" height="7.22" fill="#3d65b7"/>
<rect x="52.49" y="299.44" width="4.10" height="7.22" fill="#3c6cbc"/>
<rect x="56.24" y="299.44" width="4.10" height="7.22" fill="#3a74c1"/>
<rect x="59.98" y="299.44" width="4.10" height="7.22" fill="#3a75c2"/>
<rect x="63.73" y="299.44" width="4.10" height="7.22" fill="#3d64b6"/>
<rect x="67.48" y="299.44" width="4.10" height="7.22" fill="#3c5cb0"/>
<rect x="71.22" y="299.44" width="4.10" height="7.22" fill="#3b5aae"/>
<rect x="74.97" y="299.44" width="7.84" height="7.22" fill="#3b59ad"/>
<rect x="82.46" y="299.44" width="4.10" height="7.22" fill="#39469e"/>
<rect x="86.21" y="299.44" width="7.84" height="7.22" fill="#3a53a9"/>
<rect x="93.71" y="299.44" width="4.10" height="7.22" fill="#39469e"/>
<rect x="97.45" y="299.44" width="4.10" height="7.22" fill="#3a52a8"/>
<rect x="101.20" y="299.44" width="4.10" height="7.22" fill="#39469e"/>
<rect x="104.95" y="299.44" width="4.10" height="7.22" fill="#3a51a7"/>
<rect x="108.69" y="299.44" width="7.84" height="7.22" fill="#39469e"/>
<rect x="116.19" y="299.44" width="4.10" height="7.22" fill="#3a50a6"/>
<rect x="119.94" y="299.44" width="109.01" height="7.22" fill="#39469e"/>
<rect x="37.50" y="306.31" width="4.10" height="7.22" fill="#39479e"/>
<rect x="41.25" y="306.31" width="7.84" height="7.22" fill="#3c5cb0"/>
<rect x="48.74" y="306.31" width="4.10" height="7.22" fill="#3d65b6"/>
<rect x="52.49" y="306.31" width="4.10" height="7.22" fill="#3c6cbc"/>
<rect x="56.24" y="306.31" width="4.10" height="7.22" fill="#3b70be"/>
<rect x="59.98" y="306.31" width="4.10" height="7.22" fill="#3b71bf"/>
<rect x="63.73" y="306.31" width="4.10" height="7.22" fill="#3d63b5"/>
<rect x="67.48" y="306.31" width="4.10" height="7.22" fill="#3c5cb0"/>
<rect x="71.22" y="306.31" width="4.10" height="7.22" fill="#3b5aae"/>
<rect x="74.97" y="306.31" width="7.84" height="7.22" fill="#3b58ac"/>
<rect x="82.46" y="306.31" width="4.10" height="7.22" fill="#39469e"/>
<rect x="86.21" y="306.31" width="4.10" height="7.22" fill="#3a53a9"/>
<rect x="89.96" y="306.31" width="4.10" height="7.22" fill="#3a53a8"/>
<rect x="93.71" y="306.31" width="4.10" height="7.22" fill="#39469e"/>
<rect x="97.45" y="306.31" width="4.10" height="7.22" fill="#3a52a8"/>
<rect x="101.20" y="306.31" width="15.34" height="7.22" fill="#39469e"/>
<rect x="116.19" y="306.31" width="4.10" height="7.22" fill="#3a50a6"/>
<rect x="119.94" y="306.31" width="109.01" height="7.22" fill="#39469e"/>
<rect x="37.50" y="313.19" width="4.10" height="7.22" fill="#39479e"/>
<rect x="41.25" y="313.19" width="7.84" height="7.22" fill="#3c5cb0"/>
<rect x="48.74" y="313.19" width="4.10" height="7.22" fill="#3d64b6"/>
<rect x="52.49" y="313.19" width="4.10" height="7.22" fill="#3c6bbb"/>
<rect x="56.24" y="313.19" width="7.84" height="7.22" fill="#3c6cbc"/>
<rect x="63.73" y="313.19" width="4.10" height="7.22" fill="#3d62b4"/>
<rect x="67.48" y="313.19" width="4.10" height="7.22" fill="#3c5baf"/>
<rect x="71.22" y="313.19" width="4.10" height="7.22" fill="#3b5aae"/>
<rect x="74.97" y="313.19" width="7.84" height="7.22" fill="#3b56ac"/>
<rect x="82.46" y="313.19" width="4.10" height="7.22" fill="#39469e"/>
<rect x="86.21" y="313.19" width="4.10" height="7.22" fill="#3a53a9"/>
<rect x="89.96" y="313.19" width="4.10" height="7.22" fill="#3a52a8"/>
<rect x="93.71" y="313.19" width="4.10" height="7.22" fill="#39469e"/>
<rect x="97.45" y="313.19" width="4.10" height="7.22" fill="#3a52a8"/>
<rect x="101.20" y="313.19" width="127.75" height="7.22" fill="#39469e"/>
<rect x="37.50" y="320.06" width="4.10" height="7.22" fill="#39479e"/>
<rect x="41.25" y="320.06" width="7.84" height="7.22" fill="#3c5cb0"/>
<rect x="48.74" y="320.06" width="4.10" height="7.22" fill="#3d64b6"/>
<rect x="52.49" y="320.06" width="4.10" height="7.22" fill="#3c6bbb"/>
<rect x="56.24" y="320.06" width="4.10" height="7.22" fill="#3c6cbc"/>
<rect x="59.98" y="320.06" width="4.10" height="7.22" fill="#3c6cbb"/>
<rect x="63.73" y="320.06" width="4.10" height="7.22" fill="#3d61b4"/>
<rect x="67.48" y="320.06" width="4.10" height="7.22" fill="#3b5baf"/>
<rect x="71.22" y="320.06" width="4.10" height="7.22" fill="#3b59ad"/>
<rect x="74.97" y="320.06" width="7.84" height="7.22" fill="#3b56ab"/>
<rect x="82.46" y="320.06" width="4.10" height="7.22" fill="#39469e"/>
<rect x="86.21" y="320.06" width="7.84" height="7.22" fill="#3a52a8"/>
<rect x="93.71" y="320.06" width="4.10" height="7.22" fill="#39469e"/>
<rect x="97.45" y="320.06" width="4.10" height="7.22" fill="#3a51a7"/>
<rect x="101.20" y="320.06" width="127.75" height="7.22" fill="#39469e"/>
<rect x="37.50" y="326.93" width="4.10" height="7.22" fill="#39479e"/>
<rect x="41.25" y="326.93" width="4.10" height="7.22" fill="#3c5baf"/>
<rect x="44.99" y="326.93" width="4.10" height="7.22" fill="#3c5cb0"/>
<rect x="48.74" y="326.93" width="4.10" height="7.22" fill="#3d63b5"/>
<rect x="52.49" y="326.93" width="4.10" height="7.22" fill="#3c6aba"/>
<rect x="56.24" y="326.93" width="7.84" height="7.22" fill="#3c6bbb"/>
<rect x="63.73" y="326.93" width="4.10" height="7.22" fill="#3c61b4"/>
<rect x="67.48" y="326.93" width="4.10" height="7.22" fill="#3b5aae"/>
<rect x="71.22" y="326.93" width="4.10" height="7.22" fill="#3b58ad"/>
<rect x="74.97" y="326.93" width="7.84" height="7.22" fill="#3b56ab"/>
<rect x="82.46" y="326.93" width="4.10" height="7.22" fill="#39469e"/>
<rect x="86.21" y="326.93" width="7.84" height="7.22" fill="#3a52a8"/>
<rect x="93.71" y="326.93" width="4.10" height="7.22" fill="#39469e"/>
<rect x="97.45" y="326.93" width="4.10" height="7.22" fill="#3a51a7"/>
<rect x="101.20" y="326.93" width="127.75" height="7.22" fill="#39469e"/>
<rect x="37.50" y="333.80" width="4.10" height="7.22" fill="#39479e"/>
<rect x="41.25" y="333.80" width="4.10" height="7.22" fill="#3b5baf"/>
<rect x="44.99" y="333.80" width="4.10" height="7.22" fill="#3c5cb0"/>
<rect x="48.74" y="333.80" width="4.10" height="7.22" fill="#3d63b5"/>
<rect x="52.49" y="333.80" width="4.10" height="7.22" fill="#3c6aba"/>
<rect x="56.24" y="333.80" width="4.10" height="7.22" fill="#3c6bbb"/>
<rect x="59.98" y="333.80" width="4.10" height="7.22" fill="#3c6aba"/>
<rect x="63.73" y="333.80" width="4.10" height="7.22" fill="#3c61b3"/>
<rect x="67.48" y="333.80" width="4.10" height="7.22" fill="#3b5aae"/>
<rect x="71.22" y="333.80" width="4.10" height="7.22" fill="#3b58ad"/>
<rect x="74.97" y="333.80" width="7.84" height="7.22" fill="#3b55ab"/>
<rect x="82.46" y="333.80" width="4.10" height="7.22" fill="#39469e"/>
<rect x="86.21" y="333.80" width="7.84" height="7.22" fill="#3a52a8"/>
<rect x="93.71" y="333.80" width="135.24" height="7.22" fill="#39469e"/>
<rect x="37.50" y="340.67" width="4.10" height="7.22" fill="#39479e"/>
<rect x="41.25" y="340.67" width="4.10" height="7.22" fill="#3b5aae"/>
<rect x="44.99" y="340.67" width="4.10" height="7.22" fill="#3c5caf"/>
<rect x="48.74" y="340.67" width="4.10" height="7.22" fill="#3d62b5"/>
<rect x="52.49" y="340.67" width="7.84" height="7.22" fill="#3c6aba"/>
<rect x="59.98" y="340.67" width="4.10" height="7.22" fill="#3c69b9"/>
<rect x="63.73" y="340.67" width="4.10" height="7.22" fill="#3c60b3"/>
<rect x="67.48" y="340.67" width="4.10" height="7.22" fill="#3b5aae"/>
<rect x="71.22" y="340.67" width="4.10" height="7.22" fill="#3b58ac"/>
<rect x="74.97" y="340.67" width="7.84" height="7.22" fill="#3a55aa"/>
<rect x="82.46" y="340.67" width="4.10" height="7.22" fill="#39469e"/>
<rect x="86.21" y="340.67" width="4.10" height="7.22" fill="#3a52a8"/>
<rect x="89.96" y="340.67" width="4.10" height="7.22" fill="#3a51a7"/>
<rect x="93.71" y="340.67" width="135.24" height="7.22" fill="#39469e"/>
<rect x="37.50" y="347.54" width="4.10" height="7.22" fill="#39479e"/>
<rect x="41.25" y="347.54" width="4.10" height="7.22" fill="#3b59ae"/>
<rect x="44.99" y="347.54" width="4.10" height="7.22" fill="#3c5baf"/>
<rect x="48.74" y="347.54" width="4.10" height="7.22" fill="#3d62b5"/>
<rect x="52.49" y="347.54" width="4.10" height="7.22" fill="#3c69ba"/>
<rect x="56.24" y="347.54" width="4.10" height="7.22" fill="#3c6aba"/>
<rect x="59.98" y="347.54" width="4.10" height="7.22" fill="#3c68b9"/>
<rect x="63.73" y="347.54" width="4.10" height="7.22" fill="#3c60b3"/>
<rect x="67.48" y="347.54" width="4.10" height="7.22" fill="#3b59ae"/>
<rect x="71.22" y="347.54" width="4.10" height="7.22" fill="#3b57ac"/>
<rect x="74.97" y="347.54" width="7.84" height="7.22" fill="#3a55aa"/>
<rect x="82.46" y="347.54" width="4.10" height="7.22" fill="#39469e"/>
<rect x="86.21" y="347.54" width="4.10" height="7.22" fill="#3a51a8"/>
<rect x="89.96" y="347.54" width="4.10" height="7.22" fill="#3a51a7"/>
<rect x="93.71" y="347.54" width="135.24" height="7.22" fill="#39469e"/>
<rect x="37.50" y="354.41" width="4.10" height="7.22" fill="#39479e"/>
<rect x="41.25" y="354.41" width="4.10" height="7.22" fill="#3b59ad"/>
<rect x="44.99" y="354.41" width="4.10" height="7.22" fill="#3c5baf"/>
<rect x="48.74" y="354.41" width="4.10" height="7.22" fill="#3d62b4"/>
<rect x="52.49" y="354.41" width="7.84" height="7.22" fill="#3c69ba"/>
<rect x="59.98" y="354.41" width="4.10" height="7.22" fill="#3c67b8"/>
<rect x="63.73" y="354.41" width="4.10" height="7.22" fill="#3c60b2"/>
<rect x="67.48" y="354.41" width="4.10" height="7.22" fill="#3b59ad"/>
<rect x="71.22" y="354.41" width="4.10" height="7.22" fill="#3b56ac"/>
<rect x="74.97" y="354.41" width="7.84" height="7.22" fill="#3a54aa"/>
<rect x="82.46" y="354.41" width="4.10" height="7.22" fill="#39469e"/>
<rect x="86.21" y="354.41" width="7.84" height="7.22" fill="#3a51a7"/>
<rect x="93.71" y="354.41" width="135.24" height="7.22" fill="#39469e"/>
<rect x="37.50" y="361.29" width="4.10" height="7.22" fill="#39479e"/>
<rect x="41.25" y="361.29" width="4.10" height="7.22" fill="#3b59ad"/>
<rect x="44.99" y="361.29" width="4.10" height="7.22" fill="#3b5baf"/>
<rect x="48.74" y="361.29" width="4.10" height="7.22" fill="#3d61b4"/>
<rect x="52.49" y="361.29" width="7.84" height="7.22" fill="#3c68b9"/>
<rect x="59.98" y="361.29" width="4.10" height="7.22" fill="#3d66b8"/>
<rect x="63.73" y="361.29" width="4.10" height="7.22" fill="#3c5fb2"/>
<rect x="67.48" y="361.29" width="4.10" height="7.22" fill="#3b59ad"/>
<rect x="71.22" y="361.29" width="4.10" height="7.22" fill="#3b56ac"/>
<rect x="74.97" y="361.29" width="7.84" height="7.22" fill="#3a54aa"/>
<rect x="82.46" y="361.29" width="4.10" height="7.22" fill="#39469e"/>
<rect x="86.21" y="361.29" width="7.84" height="7.22" fill="#3a51a7"/>
<rect x="93.71" y="361.29" width="135.24" height="7.22" fill="#39469e"/>
<rect x="37.50" y="368.16" width="4.10" height="7.22" fill="#39479e"/>
<rect x="41.25" y="368.16" width="4.10" height="7.22" fill="#3b58ad"/>
<rect x="44.99" y="368.16" width="4.10" height="7.22" fill="#3b5baf"/>
<rect x="48.74" y="368.16" width="4.10" height="7.22" fill="#3c61b4"/>
<rect x="52.49" y="368.16" width="7.84" height="7.22" fill="#3c68b9"/>
<rect x="59.98" y="368.16" width="4.10" height="7.22" fill="#3d66b7"/>
<rect x="63.73" y="368.16" width="4.10" height="7.22" fill="#3c5fb2"/>
<rect x="67.48" y="368.16" width="4.10" height="7.22" fill="#3b59ad"/>
<rect x="71.22" y="368.16" width="4.10" height="7.22" fill="#3b56ac"/>
<rect x="74.97" y="368.16" width="7.84" height="7.22" fill="#3a54aa"/>
<rect x="82.46" y="368.16" width="4.10" height="7.22" fill="#39469e"/>
<rect x="86.21" y="368.16" width="4.10" height="7.22" fill="#3a51a7"/>
<rect x="89.96" y="368.16" width="4.10" height="7.22" fill="#3a50a7"/>
<rect x="93.71" y="368.16" width="135.24" height="7.22" fill="#39469e"/>
<rect x="37.50" y="375.03" width="4.10" height="7.22" fill="#39479e"/>
<rect x="41.25" y="375.03" width="4.10" height="7.22" fill="#3b58ad"/>
<rect x="44.99" y="375.03" width="4.10" height="7.22" fill="#3b5aae"/>
<rect x="48.74" y="375.03" width="4.10" height="7.22" fill="#3c61b3"/>
<rect x="52.49" y="375.03" width="7.84" height="7.22" fill="#3c67b8"/>
<rect x="59.98" y="375.03" width="4.10" height="7.22" fill="#3d65b7"/>
<rect x="63.73" y="375.03" width="4.10" height="7.22" fill="#3c5fb2"/>
<rect x="67.48" y="375.03" width="4.10" height="7.22" fill="#3b59ad"/>
<rect x="71.22" y="375.03" width="4.10" height="7.22" fill="#3b56ac"/>
<rect x="74.97" y="375.03" width="4.10" height="7.22" fill="#39469e"/>
<rect x="78.72" y="375.03" width="4.10" height="7.22" fill="#3a54aa"/>
<rect x="82.46" y="375.03" width="7.84" height="7.22" fill="#39469e"/>
<rect x="89.96" y="375.03" width="4.10" height="7.22" fill="#3a50a6"/>
<rect x="93.71" y="375.03" width="135.24" height="7.22" fill="#39469e"/>
<rect x="37.50" y="381.90" width="4.10" height="7.22" fill="#39479e"/>
<rect x="41.25" y="381.90" width="4.10" height="7.22" fill="#3b58ad"/>
<rect x="44.99" y="381.90" width="4.10" height="7.22" fill="#3b5aae"/>
<rect x="48.74" y="381.90" width="4.10" height="7.22" fill="#3c60b3"/>
<rect x="52.49" y="381.90" width="7.84" height="7.22" fill="#3c67b8"/>
<rect x="59.98" y="381.90" width="4.10" height="7.22" fill="#3d65b7"/>
<rect x="63.73" y="381.90" width="4.10" height="7.22" fill="#3c5fb2"/>
<rect x="67.48" y="381.90" width="4.10" height="7.22" fill="#3b59ad"/>
<rect x="71.22" y="381.90" width="4.10" height="7.22" fill="#3b56ac"/>
<rect x="74.97" y="381.90" width="4.10" height="7.22" fill="#39469e"/>
<rect x="78.72" y="381.90" width="4.10" height="7.22" fill="#3a54aa"/>
<rect x="82.46" y="381.90" width="7.84" height="7.22" fill="#39469e"/>
<rect x="89.96" y="381.90" width="4.10" height="7.22" fill="#3a50a6"/>
<rect x="93.71" y="381.90" width="135.24" height="7.22" fill="#39469e"/>
<rect x="37.50" y="388.77" width="4.10" height="7.22" fill="#39479e"/>
<rect x="41.25" y="388.77" width="4.10" height="7.22" fill="#3b58ac"/>
<rect x="44.99" y="388.77" width="4.10" height="7.22" fill="#3b5aae"/>
<rect x="48.74" y="388.77" width="4.10" height="7.22" fill="#3c60b3"/>
<rect x="52.49" y="388.77" width="7.84" height="7.22" fill="#3d66b8"/>
<rect x="59.98" y="388.77" width="4.10" height="7.22" fill="#3d64b6"/>
<rect x="63.73" y="388.77" width="4.10" height="7.22" fill="#3c5fb2"/>
<rect x="67.48" y="388.77" width="4.10" height="7.22" fill="#3b59ad"/>
<rect x="71.22" y="388.77" width="4.10" height="7.22" fill="#3b56ac"/>
<rect x="74.97" y="388.77" width="153.98" height="7.22" fill="#39469e"/>
<rect x="37.50" y="395.64" width="4.10" height="7.22" fill="#39479e"/>
<rect x="41.25" y="395.64" width="4.10" height="7.22" fill="#3b57ac"/>
<rect x="44.99" y="395.64" width="4.10" height="7.22" fill="#3b5aae"/>
<rect x="48.74" y="395.64" width="4.10" height="7.22" fill="#3c60b2"/>
<rect x="52.49" y="395.64" width="7.84" height="7.22" fill="#3d66b7"/>
<rect x="59.98" y="395.64" width="4.10" height="7.22" fill="#3d64b6"/>
<rect x="63.73" y="395.64" width="4.10" height="7.22" fill="#3c5fb2"/>
<rect x="67.48" y="395.64" width="4.10" height="7.22" fill="#3b59ad"/>
<rect x="71.22" y="395.64" width="4.10" height="7.22" fill="#3b56ac"/>
<rect x="74.97" y="395.64" width="153.98" height="7.22" fill="#39469e"/>
<rect x="37.50" y="402.51" width="4.10" height="7.22" fill="#39479e"/>
<rect x="41.25" y="402.51" width="4.10" height="7.22" fill="#3b57ac"/>
<rect x="44.99" y="402.51" width="4.10" height="7.22" fill="#3b59ae"/>
<rect x="48.74" y="402.51" width="4.10" height="7.22" fill="#3c5fb2"/>
<rect x="52.49" y="402.51" width="7.84" height="7.22" fill="#3d65b7"/>
<rect x="59.98" y="402.51" width="4.10" height="7.22" fill="#3d63b5"/>
<rect x="63.73" y="402.51" width="4.10" height="7.22" fill="#3c5eb2"/>
<rect x="67.48" y="402.51" width="4.10" height="7.22" fill="#3b59ad"/>
<rect x="71.22" y="402.51" width="4.10" height="7.22" fill="#3b56ac"/>
<rect x="74.97" y="402.51" width="153.98" height="7.22" fill="#39469e"/>
<rect x="37.50" y="409.39" width="4.10" height="7.22" fill="#39479e"/>
<rect x="41.25" y="409.39" width="4.10" height="7.22" fill="#3b57ac"/>
<rect x="44.99" y="409.39" width="4.10" height="7.22" fill="#3b59ae"/>
<rect x="48.74" y="409.39" width="4.10" height="7.22" fill="#3c5fb2"/>
<rect x="52.49" y="409.39" width="7.84" height="7.22" fill="#3d65b7"/>
<rect x="59.98" y="409.39" width="4.10" height="7.22" fill="#3d63b5"/>
<rect x="63.73" y="409.39" width="4.10" height="7.22" fill="#3c5eb2"/>
<rect x="67.48" y="409.39" width="4.10" height="7.22" fill="#3b59ad"/>
<rect x="71.22" y="409.39" width="4.10" height="7.22" fill="#3b56ac"/>
<rect x="74.97" y="409.39" width="153.98" height="7.22" fill="#39469e"/>
<rect x="37.50" y="416.26" width="4.10" height="7.22" fill="#39479e"/>
<rect x="41.25" y="416.26" width="4.10" height="7.22" fill="#3b57ac"/>
<rect x="44.99" y="416.26" width="4.10" height="7.22" fill="#3b59ad"/>
<rect x="48.74" y="416.26" width="4.10" height="7.22" fill="#3c5eb2"/>
<rect x="52.49" y="416.26" width="7.84" height="7.22" fill="#3d64b6"/>
<rect x="59.98" y="416.26" width="4.10" height="7.22" fill="#3d62b5"/>
<rect x="63.73" y="416.26" width="4.10" height="7.22" fill="#3c5eb1"/>
<rect x="67.48" y="416.26" width="4.10" height="7.22" fill="#3b59ad"/>
<rect x="71.22" y="416.26" width="4.10" height="7.22" fill="#3b56ac"/>
<rect x="74.97" y="416.26" width="153.98" height="7.22" fill="#39469e"/>
<rect x="37.50" y="423.13" width="4.10" height="7.22" fill="#39479e"/>
<rect x="41.25" y="423.13" width="4.10" height="7.22" fill="#3b56ac"/>
<rect x="44.99" y="423.13" width="4.10" height="7.22" fill="#3b59ad"/>
<rect x="48.74" y="423.13" width="4.10" height="7.22" fill="#3c5eb1"/>
<rect x="52.49" y="423.13" width="7.84" height="7.22" fill="#3d64b6"/>
<rect x="59.98" y="423.13" width="4.10" height="7.22" fill="#3d62b4"/>
<rect x="63.73" y="423.13" width="4.10" height="7.22" fill="#3c5eb1"/>
<rect x="67.48" y="423.13" width="4.10" height="7.22" fill="#3b59ad"/>
<rect x="71.22" y="423.13" width="4.10" height="7.22" fill="#3b56ac"/>
<rect x="74.97" y="423.13" width="153.98" height="7.22" fill="#39469e"/>
</g>
<g id="panel-c">
<rect x="37.50" y="237.60" width="191.10" height="192.40" fill="none" stroke="#555555" stroke-width="1.1" />
<line x1="39.37" y1="430.00" x2="39.37" y2="428.00" stroke="#555555" stroke-width="1.0" />
<line x1="39.37" y1="237.60" x2="39.37" y2="239.60" stroke="#555555" stroke-width="1.0" />
<line x1="86.21" y1="430.00" x2="86.21" y2="428.00" stroke="#555555" stroke-width="1.0" />
<line x1="86.21" y1="237.60" x2="86.21" y2="239.60" stroke="#555555" stroke-width="1.0" />
<line x1="133.05" y1="430.00" x2="133.05" y2="428.00" stroke="#555555" stroke-width="1.0" />
<line x1="133.05" y1="237.60" x2="133.05" y2="239.60" stroke="#555555" stroke-width="1.0" />
<line x1="179.89" y1="430.00" x2="179.89" y2="428.00" stroke="#555555" stroke-width="1.0" />
<line x1="179.89" y1="237.60" x2="179.89" y2="239.60" stroke="#555555" stroke-width="1.0" />
<line x1="226.73" y1="430.00" x2="226.73" y2="428.00" stroke="#555555" stroke-width="1.0" />
<line x1="226.73" y1="237.60" x2="226.73" y2="239.60" stroke="#555555" stroke-width="1.0" />
<line x1="37.50" y1="254.78" x2="39.50" y2="254.78" stroke="#555555" stroke-width="1.0" />
<line x1="228.60" y1="254.78" x2="226.60" y2="254.78" stroke="#555555" stroke-width="1.0" />
<line x1="37.50" y1="289.14" x2="39.50" y2="289.14" stroke="#555555" stroke-width="1.0" />
<line x1="228.60" y1="289.14" x2="226.60" y2="289.14" stroke="#555555" stroke-width="1.0" />
<line x1="37.50" y1="323.49" x2="39.50" y2="323.49" stroke="#555555" stroke-width="1.0" />
<line x1="228.60" y1="323.49" x2="226.60" y2="323.49" stroke="#555555" stroke-width="1.0" />
<line x1="37.50" y1="357.85" x2="39.50" y2="357.85" stroke="#555555" stroke-width="1.0" />
<line x1="228.60" y1="357.85" x2="226.60" y2="357.85" stroke="#555555" stroke-width="1.0" />
<line x1="37.50" y1="392.21" x2="39.50" y2="392.21" stroke="#555555" stroke-width="1.0" />
<line x1="228.60" y1="392.21" x2="226.60" y2="392.21" stroke="#555555" stroke-width="1.0" />
<line x1="37.50" y1="426.56" x2="39.50" y2="426.56" stroke="#555555" stroke-width="1.0" />
<line x1="228.60" y1="426.56" x2="226.60" y2="426.56" stroke="#555555" stroke-width="1.0" />
<defs><linearGradient id="cbC" x1="0" y1="1" x2="0" y2="0">
<stop offset="0.0000" stop-color="#39449c"/>
<stop offset="0.0159" stop-color="#39479e"/>
<stop offset="0.0317" stop-color="#3a49a0"/>
<stop offset="0.0476" stop-color="#3a4ca2"/>
<stop offset="0.0635" stop-color="#3a4ea4"/>
<stop offset="0.0794" stop-color="#3b51a6"/>
<stop offset="0.0952" stop-color="#3b53a8"/>
<stop offset="0.1111" stop-color="#3c56aa"/>
<stop offset="0.1270" stop-color="#3c58ac"/>
<stop offset="0.1429" stop-color="#3d5bae"/>
<stop offset="0.1587" stop-color="#3d5db0"/>
<stop offset="0.1746" stop-color="#3e60b2"/>
<stop offset="0.1905" stop-color="#3e62b4"/>
<stop offset="0.2063" stop-color="#3e65b6"/>
<stop offset="0.2222" stop-color="#3e68b7"/>
<stop offset="0.2381" stop-color="#3e6ab9"/>
<stop offset="0.2540" stop-color="#3d6dbb"/>
<stop offset="0.2698" stop-color="#3b71bd"/>
<stop offset="0.2857" stop-color="#3975c0"/>
<stop offset="0.3016" stop-color="#3779c2"/>
<stop offset="0.3175" stop-color="#357ec5"/>
<stop offset="0.3333" stop-color="#3183c7"/>
<stop offset="0.3492" stop-color="#2d88c9"/>
<stop offset="0.3651" stop-color="#298ecc"/>
<stop offset="0.3810" stop-color="#2593cc"/>
<stop offset="0.3968" stop-color="#2198cb"/>
<stop offset="0.4127" stop-color="#1e9dc9"/>
<stop offset="0.4286" stop-color="#1aa2c7"/>
<stop offset="0.4444" stop-color="#1aa7c3"/>
<stop offset="0.4603" stop-color="#20abbc"/>
<stop offset="0.4762" stop-color="#25b0b5"/>
<stop offset="0.4921" stop-color="#2ab4ae"/>
<stop offset="0.5079" stop-color="#34b7a5"/>
<stop offset="0.5238" stop-color="#41b99c"/>
<stop offset="0.5397" stop-color="#4fbc92"/>
<stop offset="0.5556" stop-color="#5cbe88"/>
<stop offset="0.5714" stop-color="#68bf80"/>
<stop offset="0.5873" stop-color="#72c078"/>
<stop offset="0.6032" stop-color="#7cc071"/>
<stop offset="0.6190" stop-color="#86c16a"/>
<stop offset="0.6349" stop-color="#8fc164"/>
<stop offset="0.6508" stop-color="#98c160"/>
<stop offset="0.6667" stop-color="#a1c15c"/>
<stop offset="0.6825" stop-color="#a9c158"/>
<stop offset="0.6984" stop-color="#b3c055"/>
<stop offset="0.7143" stop-color="#bcbf52"/>
<stop offset="0.7302" stop-color="#c6be4f"/>
<stop offset="0.7460" stop-color="#d0bd4d"/>
<stop offset="0.7619" stop-color="#d8bc4b"/>
<stop offset="0.7778" stop-color="#e0bb4a"/>
<stop offset="0.7937" stop-color="#e8ba49"/>
<stop offset="0.8095" stop-color="#f0b848"/>
<stop offset="0.8254" stop-color="#f6b844"/>
<stop offset="0.8413" stop-color="#fcb840"/>
<stop offset="0.8571" stop-color="#fdbe3b"/>
<stop offset="0.8730" stop-color="#fcc737"/>
<stop offset="0.8889" stop-color="#facd35"/>
<stop offset="0.9048" stop-color="#f9d233"/>
<stop offset="0.9206" stop-color="#f7d832"/>
<stop offset="0.9365" stop-color="#f5de30"/>
<stop offset="0.9524" stop-color="#f4e133"/>
<stop offset="0.9683" stop-color="#f3e437"/>
<stop offset="0.9841" stop-color="#f1e83a"/>
<stop offset="1.0000" stop-color="#f0eb3e"/>
</linearGradient></defs>
<rect x="237.00" y="237.60" width="11.00" height="192.40" fill="url(#cbC)" stroke="#555555" stroke-width="1.0" />
<line x1="248.00" y1="430.00" x2="246.00" y2="430.00" stroke="#555555" stroke-width="1.0" />
<text x="251.30" y="434.00" font-size="11.2" text-anchor="start" fill="#2a2a2a" textLength="6.60" lengthAdjust="spacingAndGlyphs" >0</text>
<line x1="248.00" y1="404.95" x2="246.00" y2="404.95" stroke="#555555" stroke-width="1.0" />
<text x="251.30" y="408.95" font-size="11.2" text-anchor="start" fill="#2a2a2a" textLength="16.50" lengthAdjust="spacingAndGlyphs" >0.5</text>
<line x1="248.00" y1="379.90" x2="246.00" y2="379.90" stroke="#555555" stroke-width="1.0" />
<text x="251.30" y="383.90" font-size="11.2" text-anchor="start" fill="#2a2a2a" textLength="6.60" lengthAdjust="spacingAndGlyphs" >1</text>
<line x1="248.00" y1="354.84" x2="246.00" y2="354.84" stroke="#555555" stroke-width="1.0" />
<text x="251.30" y="358.84" font-size="11.2" text-anchor="start" fill="#2a2a2a" textLength="16.50" lengthAdjust="spacingAndGlyphs" >1.5</text>
<line x1="248.00" y1="329.79" x2="246.00" y2="329.79" stroke="#555555" stroke-width="1.0" />
<text x="251.30" y="333.79" font-size="11.2" text-anchor="start" fill="#2a2a2a" textLength="6.60" lengthAdjust="spacingAndGlyphs" >2</text>
<line x1="248.00" y1="304.74" x2="246.00" y2="304.74" stroke="#555555" stroke-width="1.0" />
<text x="251.30" y="308.74" font-size="11.2" text-anchor="start" fill="#2a2a2a" textLength="16.50" lengthAdjust="spacingAndGlyphs" >2.5</text>
<line x1="248.00" y1="279.69" x2="246.00" y2="279.69" stroke="#555555" stroke-width="1.0" />
<text x="251.30" y="283.69" font-size="11.2" text-anchor="start" fill="#2a2a2a" textLength="6.60" lengthAdjust="spacingAndGlyphs" >3</text>
<line x1="248.00" y1="254.64" x2="246.00" y2="254.64" stroke="#555555" stroke-width="1.0" />
<text x="251.30" y="258.64" font-size="11.2" text-anchor="start" fill="#2a2a2a" textLength="16.50" lengthAdjust="spacingAndGlyphs" >3.5</text>
<text x="35.00" y="258.48" font-size="11.3" text-anchor="end" fill="#2a2a2a" textLength="16.97" lengthAdjust="spacingAndGlyphs" >0.5</text>
<text x="33.40" y="292.84" font-size="11.3" text-anchor="end" fill="#2a2a2a" textLength="6.79" lengthAdjust="spacingAndGlyphs" >1</text>
<text x="35.00" y="327.19" font-size="11.3" text-anchor="end" fill="#2a2a2a" textLength="16.97" lengthAdjust="spacingAndGlyphs" >1.5</text>
<text x="33.40" y="361.55" font-size="11.3" text-anchor="end" fill="#2a2a2a" textLength="6.79" lengthAdjust="spacingAndGlyphs" >2</text>
<text x="35.00" y="395.91" font-size="11.3" text-anchor="end" fill="#2a2a2a" textLength="16.97" lengthAdjust="spacingAndGlyphs" >2.5</text>
<text x="33.40" y="430.26" font-size="11.3" text-anchor="end" fill="#2a2a2a" textLength="6.79" lengthAdjust="spacingAndGlyphs" >3</text>
<text x="40.07" y="443.80" font-size="11.2" text-anchor="middle" fill="#2a2a2a" textLength="6.60" lengthAdjust="spacingAndGlyphs" >0</text>
<text x="86.91" y="443.80" font-size="11.2" text-anchor="middle" fill="#2a2a2a" textLength="13.21" lengthAdjust="spacingAndGlyphs" >10</text>
<text x="133.75" y="443.80" font-size="11.2" text-anchor="middle" fill="#2a2a2a" textLength="13.21" lengthAdjust="spacingAndGlyphs" >20</text>
<text x="180.59" y="443.80" font-size="11.2" text-anchor="middle" fill="#2a2a2a" textLength="13.21" lengthAdjust="spacingAndGlyphs" >30</text>
<text x="227.43" y="443.80" font-size="11.2" text-anchor="middle" fill="#2a2a2a" textLength="13.21" lengthAdjust="spacingAndGlyphs" >40</text>
<text x="14.80" y="336.80" font-size="12.6" text-anchor="middle" fill="#2a2a2a" transform="rotate(-90 14.80 336.80)" textLength="164.00" lengthAdjust="spacingAndGlyphs" >relative amplitude difference</text>
<text x="134.20" y="458.60" font-size="12.6" text-anchor="middle" fill="#2a2a2a" textLength="41.60" lengthAdjust="spacingAndGlyphs" ><tspan font-family="Liberation Serif, serif" font-size="13.4">Δ</tspan>T [ns]</text>
<text x="192.50" y="369.70" font-size="12.6" text-anchor="middle" fill="#ffffff" textLength="57.80" lengthAdjust="spacingAndGlyphs" >First peak</text>
<text x="284.00" y="327.90" font-size="12.6" text-anchor="middle" fill="#2a2a2a" transform="rotate(-90 284.00 327.90)" textLength="55.00" lengthAdjust="spacingAndGlyphs" >Error [ns]</text>
</g>
<g id="heat-d" shape-rendering="crispEdges">
<rect x="394.20" y="237.60" width="4.09" height="7.22" fill="#3779c4"/>
<rect x="397.93" y="237.60" width="4.09" height="7.22" fill="#3b6fbe"/>
<rect x="401.67" y="237.60" width="4.09" height="7.22" fill="#3c69b9"/>
<rect x="405.41" y="237.60" width="4.09" height="7.22" fill="#3d64b6"/>
<rect x="409.15" y="237.60" width="4.09" height="7.22" fill="#3c60b3"/>
<rect x="412.88" y="237.60" width="4.09" height="7.22" fill="#3c5db1"/>
<rect x="416.62" y="237.60" width="4.09" height="7.22" fill="#3b5aaf"/>
<rect x="420.36" y="237.60" width="4.09" height="7.22" fill="#3b58ad"/>
<rect x="424.09" y="237.60" width="4.09" height="7.22" fill="#3b56ab"/>
<rect x="427.83" y="237.60" width="4.09" height="7.22" fill="#3a53a9"/>
<rect x="431.57" y="237.60" width="4.09" height="7.22" fill="#3a51a7"/>
<rect x="435.31" y="237.60" width="4.09" height="7.22" fill="#3a50a6"/>
<rect x="439.04" y="237.60" width="4.09" height="7.22" fill="#3a4ea5"/>
<rect x="442.78" y="237.60" width="4.09" height="7.22" fill="#3a4da4"/>
<rect x="446.52" y="237.60" width="4.09" height="7.22" fill="#3a4ca3"/>
<rect x="450.25" y="237.60" width="4.09" height="7.22" fill="#394ba2"/>
<rect x="453.99" y="237.60" width="4.09" height="7.22" fill="#3949a1"/>
<rect x="457.73" y="237.60" width="4.09" height="7.22" fill="#3948a0"/>
<rect x="461.47" y="237.60" width="4.09" height="7.22" fill="#39489f"/>
<rect x="465.20" y="237.60" width="4.09" height="7.22" fill="#39479e"/>
<rect x="468.94" y="237.60" width="4.09" height="7.22" fill="#39469e"/>
<rect x="472.68" y="237.60" width="4.09" height="7.22" fill="#39469d"/>
<rect x="476.42" y="237.60" width="48.93" height="7.22" fill="#39459d"/>
<rect x="405.41" y="244.47" width="4.09" height="7.22" fill="#3779c4"/>
<rect x="409.15" y="244.47" width="4.09" height="7.22" fill="#3b6fbd"/>
<rect x="412.88" y="244.47" width="4.09" height="7.22" fill="#3c68b9"/>
<rect x="416.62" y="244.47" width="4.09" height="7.22" fill="#3d63b5"/>
<rect x="420.36" y="244.47" width="4.09" height="7.22" fill="#3c5fb2"/>
<rect x="424.09" y="244.47" width="4.09" height="7.22" fill="#3c5baf"/>
<rect x="427.83" y="244.47" width="4.09" height="7.22" fill="#3b58ad"/>
<rect x="431.57" y="244.47" width="4.09" height="7.22" fill="#3b56ab"/>
<rect x="435.31" y="244.47" width="4.09" height="7.22" fill="#3a53a9"/>
<rect x="439.04" y="244.47" width="4.09" height="7.22" fill="#3a51a7"/>
<rect x="442.78" y="244.47" width="4.09" height="7.22" fill="#3a4fa6"/>
<rect x="446.52" y="244.47" width="4.09" height="7.22" fill="#3a4ea4"/>
<rect x="450.25" y="244.47" width="4.09" height="7.22" fill="#3a4ca3"/>
<rect x="453.99" y="244.47" width="4.09" height="7.22" fill="#394ba2"/>
<rect x="457.73" y="244.47" width="4.09" height="7.22" fill="#3949a1"/>
<rect x="461.47" y="244.47" width="4.09" height="7.22" fill="#3948a0"/>
<rect x="465.20" y="244.47" width="4.09" height="7.22" fill="#39479f"/>
<rect x="468.94" y="244.47" width="7.82" height="7.22" fill="#39469e"/>
<rect x="476.42" y="244.47" width="48.93" height="7.22" fill="#39459d"/>
<rect x="416.62" y="251.34" width="4.09" height="7.22" fill="#3779c4"/>
<rect x="420.36" y="251.34" width="4.09" height="7.22" fill="#3b6ebd"/>
<rect x="424.09" y="251.34" width="4.09" height="7.22" fill="#3c67b8"/>
<rect x="427.83" y="251.34" width="4.09" height="7.22" fill="#3d61b4"/>
<rect x="431.57" y="251.34" width="4.09" height="7.22" fill="#3c5db1"/>
<rect x="435.31" y="251.34" width="4.09" height="7.22" fill="#3b59ae"/>
<rect x="439.04" y="251.34" width="4.09" height="7.22" fill="#3b56ab"/>
<rect x="442.78" y="251.34" width="4.09" height="7.22" fill="#3a53a9"/>
<rect x="446.52" y="251.34" width="4.09" height="7.22" fill="#3a51a7"/>
<rect x="450.25" y="251.34" width="4.09" height="7.22" fill="#3a4fa5"/>
<rect x="453.99" y="251.34" width="4.09" height="7.22" fill="#3a4da3"/>
<rect x="457.73" y="251.34" width="4.09" height="7.22" fill="#3a4ba2"/>
<rect x="461.47" y="251.34" width="4.09" height="7.22" fill="#394aa1"/>
<rect x="465.20" y="251.34" width="4.09" height="7.22" fill="#3948a0"/>
<rect x="468.94" y="251.34" width="4.09" height="7.22" fill="#39479f"/>
<rect x="472.68" y="251.34" width="4.09" height="7.22" fill="#39469e"/>
<rect x="476.42" y="251.34" width="48.93" height="7.22" fill="#39459d"/>
<rect x="424.09" y="258.21" width="4.09" height="7.22" fill="#3779c4"/>
<rect x="427.83" y="258.21" width="4.09" height="7.22" fill="#3b6ebd"/>
<rect x="431.57" y="258.21" width="4.09" height="7.22" fill="#3d66b8"/>
<rect x="435.31" y="258.21" width="4.09" height="7.22" fill="#3c60b3"/>
<rect x="439.04" y="258.21" width="4.09" height="7.22" fill="#3c5caf"/>
<rect x="442.78" y="258.21" width="4.09" height="7.22" fill="#3b58ac"/>
<rect x="446.52" y="258.21" width="4.09" height="7.22" fill="#3a54aa"/>
<rect x="450.25" y="258.21" width="4.09" height="7.22" fill="#3a51a7"/>
<rect x="453.99" y="258.21" width="4.09" height="7.22" fill="#3a4fa5"/>
<rect x="457.73" y="258.21" width="4.09" height="7.22" fill="#3a4da3"/>
<rect x="461.47" y="258.21" width="4.09" height="7.22" fill="#394ba2"/>
<rect x="465.20" y="258.21" width="4.09" height="7.22" fill="#3949a0"/>
<rect x="468.94" y="258.21" width="4.09" height="7.22" fill="#39489f"/>
<rect x="472.68" y="258.21" width="4.09" height="7.22" fill="#39479e"/>
<rect x="476.42" y="258.21" width="4.09" height="7.22" fill="#39469d"/>
<rect x="480.15" y="258.21" width="45.20" height="7.22" fill="#39459d"/>
<rect x="427.83" y="265.09" width="4.09" height="7.22" fill="#3779c4"/>
<rect x="431.57" y="265.09" width="4.09" height="7.22" fill="#3b6ebd"/>
<rect x="435.31" y="265.09" width="4.09" height="7.22" fill="#3d66b7"/>
<rect x="439.04" y="265.09" width="4.09" height="7.22" fill="#3c60b3"/>
<rect x="442.78" y="265.09" width="4.09" height="7.22" fill="#3b5baf"/>
<rect x="446.52" y="265.09" width="4.09" height="7.22" fill="#3b57ac"/>
<rect x="450.25" y="265.09" width="4.09" height="7.22" fill="#3a53a9"/>
<rect x="453.99" y="265.09" width="4.09" height="7.22" fill="#3a50a6"/>
<rect x="457.73" y="265.09" width="4.09" height="7.22" fill="#3a4ea5"/>
<rect x="461.47" y="265.09" width="4.09" height="7.22" fill="#3a4ca3"/>
<rect x="465.20" y="265.09" width="4.09" height="7.22" fill="#394aa1"/>
<rect x="468.94" y="265.09" width="4.09" height="7.22" fill="#3948a0"/>
<rect x="472.68" y="265.09" width="4.09" height="7.22" fill="#39479f"/>
<rect x="476.42" y="265.09" width="4.09" height="7.22" fill="#39469e"/>
<rect x="480.15" y="265.09" width="45.20" height="7.22" fill="#39459d"/>
<rect x="431.57" y="271.96" width="4.09" height="7.22" fill="#3779c4"/>
<rect x="435.31" y="271.96" width="4.09" height="7.22" fill="#3b6dbd"/>
<rect x="439.04" y="271.96" width="4.09" height="7.22" fill="#3d65b7"/>
<rect x="442.78" y="271.96" width="4.09" height="7.22" fill="#3c5fb2"/>
<rect x="446.52" y="271.96" width="4.09" height="7.22" fill="#3b5aae"/>
<rect x="450.25" y="271.96" width="4.09" height="7.22" fill="#3b56ab"/>
<rect x="453.99" y="271.96" width="4.09" height="7.22" fill="#3a52a8"/>
<rect x="457.73" y="271.96" width="4.09" height="7.22" fill="#3a4fa6"/>
<rect x="461.47" y="271.96" width="4.09" height="7.22" fill="#3a4da4"/>
<rect x="465.20" y="271.96" width="4.09" height="7.22" fill="#394ba2"/>
<rect x="468.94" y="271.96" width="4.09" height="7.22" fill="#3949a0"/>
<rect x="472.68" y="271.96" width="4.09" height="7.22" fill="#39489f"/>
<rect x="476.42" y="271.96" width="4.09" height="7.22" fill="#39469e"/>
<rect x="480.15" y="271.96" width="45.20" height="7.22" fill="#39459d"/>
<rect x="439.04" y="278.83" width="4.09" height="7.22" fill="#3779c4"/>
<rect x="442.78" y="278.83" width="4.09" height="7.22" fill="#3b6dbc"/>
<rect x="446.52" y="278.83" width="4.09" height="7.22" fill="#3d64b6"/>
<rect x="450.25" y="278.83" width="4.09" height="7.22" fill="#3c5db1"/>
<rect x="453.99" y="278.83" width="4.09" height="7.22" fill="#3b58ad"/>
<rect x="457.73" y="278.83" width="4.09" height="7.22" fill="#3a53a9"/>
<rect x="461.47" y="278.83" width="4.09" height="7.22" fill="#3a50a6"/>
<rect x="465.20" y="278.83" width="4.09" height="7.22" fill="#3a4da4"/>
<rect x="468.94" y="278.83" width="4.09" height="7.22" fill="#394ba2"/>
<rect x="472.68" y="278.83" width="4.09" height="7.22" fill="#3949a0"/>
<rect x="476.42" y="278.83" width="4.09" height="7.22" fill="#39479f"/>
<rect x="480.15" y="278.83" width="4.09" height="7.22" fill="#39469e"/>
<rect x="483.89" y="278.83" width="41.46" height="7.22" fill="#39459d"/>
<rect x="442.78" y="285.70" width="4.09" height="7.22" fill="#3779c4"/>
<rect x="446.52" y="285.70" width="4.09" height="7.22" fill="#3c6cbc"/>
<rect x="450.25" y="285.70" width="4.09" height="7.22" fill="#3d64b6"/>
<rect x="453.99" y="285.70" width="4.09" height="7.22" fill="#3c5db0"/>
<rect x="457.73" y="285.70" width="4.09" height="7.22" fill="#3b57ac"/>
<rect x="461.47" y="285.70" width="4.09" height="7.22" fill="#3a52a8"/>
<rect x="465.20" y="285.70" width="4.09" height="7.22" fill="#3a4fa5"/>
<rect x="468.94" y="285.70" width="4.09" height="7.22" fill="#3a4ca3"/>
<rect x="472.68" y="285.70" width="4.09" height="7.22" fill="#394aa1"/>
<rect x="476.42" y="285.70" width="4.09" height="7.22" fill="#39489f"/>
<rect x="480.15" y="285.70" width="4.09" height="7.22" fill="#39469e"/>
<rect x="483.89" y="285.70" width="41.46" height="7.22" fill="#39459d"/>
<rect x="446.52" y="292.57" width="4.09" height="7.22" fill="#3779c4"/>
<rect x="450.25" y="292.57" width="4.09" height="7.22" fill="#3c6cbc"/>
<rect x="453.99" y="292.57" width="4.09" height="7.22" fill="#3d63b5"/>
<rect x="457.73" y="292.57" width="4.09" height="7.22" fill="#3c5caf"/>
<rect x="461.47" y="292.57" width="4.09" height="7.22" fill="#3b56ab"/>
<rect x="465.20" y="292.57" width="4.09" height="7.22" fill="#3a51a7"/>
<rect x="468.94" y="292.57" width="4.09" height="7.22" fill="#3a4ea4"/>
<rect x="472.68" y="292.57" width="4.09" height="7.22" fill="#394ba2"/>
<rect x="476.42" y="292.57" width="4.09" height="7.22" fill="#3948a0"/>
<rect x="480.15" y="292.57" width="4.09" height="7.22" fill="#39479e"/>
<rect x="483.89" y="292.57" width="41.46" height="7.22" fill="#39459d"/>
<rect x="450.25" y="299.44" width="4.09" height="7.22" fill="#3779c4"/>
<rect x="453.99" y="299.44" width="4.09" height="7.22" fill="#3c6cbb"/>
<rect x="457.73" y="299.44" width="4.09" height="7.22" fill="#3d62b5"/>
<rect x="461.47" y="299.44" width="4.09" height="7.22" fill="#3b5aaf"/>
<rect x="465.20" y="299.44" width="4.09" height="7.22" fill="#3a54aa"/>
<rect x="468.94" y="299.44" width="4.09" height="7.22" fill="#3a50a6"/>
<rect x="472.68" y="299.44" width="4.09" height="7.22" fill="#3a4ca3"/>
<rect x="476.42" y="299.44" width="4.09" height="7.22" fill="#394aa1"/>
<rect x="480.15" y="299.44" width="4.09" height="7.22" fill="#39479f"/>
<rect x="483.89" y="299.44" width="4.09" height="7.22" fill="#39469e"/>
<rect x="487.63" y="299.44" width="37.72" height="7.22" fill="#39459d"/>
<rect x="453.99" y="306.31" width="4.09" height="7.22" fill="#3779c4"/>
<rect x="457.73" y="306.31" width="4.09" height="7.22" fill="#3c6bbb"/>
<rect x="461.47" y="306.31" width="4.09" height="7.22" fill="#3d61b4"/>
<rect x="465.20" y="306.31" width="4.09" height="7.22" fill="#3b59ae"/>
<rect x="468.94" y="306.31" width="4.09" height="7.22" fill="#3a53a9"/>
<rect x="472.68" y="306.31" width="4.09" height="7.22" fill="#3a4ea5"/>
<rect x="476.42" y="306.31" width="4.09" height="7.22" fill="#3a4ba2"/>
<rect x="480.15" y="306.31" width="4.09" height="7.22" fill="#3948a0"/>
<rect x="483.89" y="306.31" width="4.09" height="7.22" fill="#39469e"/>
<rect x="487.63" y="306.31" width="37.72" height="7.22" fill="#39459d"/>
<rect x="453.99" y="313.19" width="4.09" height="7.22" fill="#3779c4"/>
<rect x="457.73" y="313.19" width="4.09" height="7.22" fill="#3c6bbb"/>
<rect x="461.47" y="313.19" width="4.09" height="7.22" fill="#3d62b4"/>
<rect x="465.20" y="313.19" width="4.09" height="7.22" fill="#3b5aae"/>
<rect x="468.94" y="313.19" width="4.09" height="7.22" fill="#3a53a9"/>
<rect x="472.68" y="313.19" width="4.09" height="7.22" fill="#3a4fa5"/>
<rect x="476.42" y="313.19" width="4.09" height="7.22" fill="#3a4ba2"/>
<rect x="480.15" y="313.19" width="4.09" height="7.22" fill="#3949a0"/>
<rect x="483.89" y="313.19" width="4.09" height="7.22" fill="#39479e"/>
<rect x="487.63" y="313.19" width="37.72" height="7.22" fill="#39459d"/>
<rect x="457.73" y="320.06" width="4.09" height="7.22" fill="#3779c4"/>
<rect x="461.47" y="320.06" width="4.09" height="7.22" fill="#3c6bbb"/>
<rect x="465.20" y="320.06" width="4.09" height="7.22" fill="#3c60b3"/>
<rect x="468.94" y="320.06" width="4.09" height="7.22" fill="#3b58ad"/>
<rect x="472.68" y="320.06" width="4.09" height="7.22" fill="#3a52a8"/>
<rect x="476.42" y="320.06" width="4.09" height="7.22" fill="#3a4da4"/>
<rect x="480.15" y="320.06" width="4.09" height="7.22" fill="#394aa1"/>
<rect x="483.89" y="320.06" width="4.09" height="7.22" fill="#39479f"/>
<rect x="487.63" y="320.06" width="4.09" height="7.22" fill="#39469d"/>
<rect x="491.36" y="320.06" width="33.99" height="7.22" fill="#39459d"/>
<rect x="457.73" y="326.93" width="4.09" height="7.22" fill="#3779c4"/>
<rect x="461.47" y="326.93" width="4.09" height="7.22" fill="#3c6bbb"/>
<rect x="465.20" y="326.93" width="4.09" height="7.22" fill="#3c61b4"/>
<rect x="468.94" y="326.93" width="4.09" height="7.22" fill="#3b59ad"/>
<rect x="472.68" y="326.93" width="4.09" height="7.22" fill="#3a52a8"/>
<rect x="476.42" y="326.93" width="4.09" height="7.22" fill="#3a4ea5"/>
<rect x="480.15" y="326.93" width="4.09" height="7.22" fill="#394ba2"/>
<rect x="483.89" y="326.93" width="4.09" height="7.22" fill="#39489f"/>
<rect x="487.63" y="326.93" width="4.09" height="7.22" fill="#39469e"/>
<rect x="491.36" y="326.93" width="33.99" height="7.22" fill="#39459d"/>
<rect x="461.47" y="333.80" width="4.09" height="7.22" fill="#3779c4"/>
<rect x="465.20" y="333.80" width="4.09" height="7.22" fill="#3c6abb"/>
<rect x="468.94" y="333.80" width="4.09" height="7.22" fill="#3c60b3"/>
<rect x="472.68" y="333.80" width="4.09" height="7.22" fill="#3b57ac"/>
<rect x="476.42" y="333.80" width="4.09" height="7.22" fill="#3a51a7"/>
<rect x="480.15" y="333.80" width="4.09" height="7.22" fill="#3a4ca3"/>
<rect x="483.89" y="333.80" width="4.09" height="7.22" fill="#3949a0"/>
<rect x="487.63" y="333.80" width="4.09" height="7.22" fill="#39479e"/>
<rect x="491.36" y="333.80" width="33.99" height="7.22" fill="#39459d"/>
<rect x="457.73" y="340.67" width="4.09" height="7.22" fill="#f0eb3e"/>
<rect x="461.47" y="340.67" width="4.09" height="7.22" fill="#3779c4"/>
<rect x="465.20" y="340.67" width="4.09" height="7.22" fill="#3c6bbb"/>
<rect x="468.94" y="340.67" width="4.09" height="7.22" fill="#3c60b3"/>
<rect x="472.68" y="340.67" width="4.09" height="7.22" fill="#3b58ac"/>
<rect x="476.42" y="340.67" width="4.09" height="7.22" fill="#3a51a7"/>
<rect x="480.15" y="340.67" width="4.09" height="7.22" fill="#3a4da4"/>
<rect x="483.89" y="340.67" width="4.09" height="7.22" fill="#394aa1"/>
<rect x="487.63" y="340.67" width="4.09" height="7.22" fill="#39479f"/>
<rect x="491.36" y="340.67" width="33.99" height="7.22" fill="#39459d"/>
<rect x="457.73" y="347.54" width="4.09" height="7.22" fill="#f0eb3e"/>
<rect x="461.47" y="347.54" width="4.09" height="7.22" fill="#f2e638"/>
<rect x="465.20" y="347.54" width="4.09" height="7.22" fill="#3779c4"/>
<rect x="468.94" y="347.54" width="4.09" height="7.22" fill="#3c6aba"/>
<rect x="472.68" y="347.54" width="4.09" height="7.22" fill="#3c5fb2"/>
<rect x="476.42" y="347.54" width="4.09" height="7.22" fill="#3b56ab"/>
<rect x="480.15" y="347.54" width="4.09" height="7.22" fill="#3a50a6"/>
<rect x="483.89" y="347.54" width="4.09" height="7.22" fill="#3a4ba2"/>
<rect x="487.63" y="347.54" width="4.09" height="7.22" fill="#3948a0"/>
<rect x="491.36" y="347.54" width="4.09" height="7.22" fill="#39469e"/>
<rect x="495.10" y="347.54" width="30.25" height="7.22" fill="#39459d"/>
<rect x="457.73" y="354.41" width="4.09" height="7.22" fill="#f0eb3e"/>
<rect x="461.47" y="354.41" width="4.09" height="7.22" fill="#f2e638"/>
<rect x="465.20" y="354.41" width="4.09" height="7.22" fill="#3779c4"/>
<rect x="468.94" y="354.41" width="4.09" height="7.22" fill="#3c6aba"/>
<rect x="472.68" y="354.41" width="4.09" height="7.22" fill="#3c5fb2"/>
<rect x="476.42" y="354.41" width="4.09" height="7.22" fill="#3b57ac"/>
<rect x="480.15" y="354.41" width="4.09" height="7.22" fill="#3a50a7"/>
<rect x="483.89" y="354.41" width="4.09" height="7.22" fill="#3a4ca3"/>
<rect x="487.63" y="354.41" width="4.09" height="7.22" fill="#3949a0"/>
<rect x="491.36" y="354.41" width="4.09" height="7.22" fill="#39469e"/>
<rect x="495.10" y="354.41" width="30.25" height="7.22" fill="#39459d"/>
<rect x="457.73" y="361.29" width="4.09" height="7.22" fill="#f0eb3e"/>
<rect x="461.47" y="361.29" width="4.09" height="7.22" fill="#f4e133"/>
<rect x="465.20" y="361.29" width="4.09" height="7.22" fill="#f9d134"/>
<rect x="468.94" y="361.29" width="4.09" height="7.22" fill="#3779c4"/>
<rect x="472.68" y="361.29" width="4.09" height="7.22" fill="#3c69ba"/>
<rect x="476.42" y="361.29" width="4.09" height="7.22" fill="#3c5eb1"/>
<rect x="480.15" y="361.29" width="4.09" height="7.22" fill="#3a55aa"/>
<rect x="483.89" y="361.29" width="4.09" height="7.22" fill="#3a4fa5"/>
<rect x="487.63" y="361.29" width="4.09" height="7.22" fill="#394aa1"/>
<rect x="491.36" y="361.29" width="4.09" height="7.22" fill="#39479f"/>
<rect x="495.10" y="361.29" width="30.25" height="7.22" fill="#39459d"/>
<rect x="457.73" y="368.16" width="4.09" height="7.22" fill="#f0eb3e"/>
<rect x="461.47" y="368.16" width="4.09" height="7.22" fill="#f4e133"/>
<rect x="465.20" y="368.16" width="4.09" height="7.22" fill="#f9d134"/>
<rect x="468.94" y="368.16" width="4.09" height="7.22" fill="#3779c4"/>
<rect x="472.68" y="368.16" width="4.09" height="7.22" fill="#3c6aba"/>
<rect x="476.42" y="368.16" width="4.09" height="7.22" fill="#3c5eb2"/>
<rect x="480.15" y="368.16" width="4.09" height="7.22" fill="#3b56ab"/>
<rect x="483.89" y="368.16" width="4.09" height="7.22" fill="#3a4fa6"/>
<rect x="487.63" y="368.16" width="4.09" height="7.22" fill="#394ba2"/>
<rect x="491.36" y="368.16" width="4.09" height="7.22" fill="#39489f"/>
<rect x="495.10" y="368.16" width="4.09" height="7.22" fill="#39469d"/>
<rect x="498.84" y="368.16" width="26.51" height="7.22" fill="#39459d"/>
<rect x="453.99" y="375.03" width="4.09" height="7.22" fill="#f0eb3e"/>
<rect x="457.73" y="375.03" width="4.09" height="7.22" fill="#f1e83b"/>
<rect x="461.47" y="375.03" width="4.09" height="7.22" fill="#f6da31"/>
<rect x="465.20" y="375.03" width="4.09" height="7.22" fill="#fcc836"/>
<rect x="468.94" y="375.03" width="4.09" height="7.22" fill="#3779c4"/>
<rect x="472.68" y="375.03" width="4.09" height="7.22" fill="#3c6aba"/>
<rect x="476.42" y="375.03" width="4.09" height="7.22" fill="#3c5fb2"/>
<rect x="480.15" y="375.03" width="4.09" height="7.22" fill="#3b56ab"/>
<rect x="483.89" y="375.03" width="4.09" height="7.22" fill="#3a50a6"/>
<rect x="487.63" y="375.03" width="4.09" height="7.22" fill="#3a4ca2"/>
<rect x="491.36" y="375.03" width="4.09" height="7.22" fill="#3948a0"/>
<rect x="495.10" y="375.03" width="4.09" height="7.22" fill="#39469e"/>
<rect x="498.84" y="375.03" width="26.51" height="7.22" fill="#39459d"/>
<rect x="453.99" y="381.90" width="4.09" height="7.22" fill="#f0eb3e"/>
<rect x="457.73" y="381.90" width="4.09" height="7.22" fill="#f1e83b"/>
<rect x="461.47" y="381.90" width="4.09" height="7.22" fill="#f6da31"/>
<rect x="465.20" y="381.90" width="4.09" height="7.22" fill="#fcc836"/>
<rect x="468.94" y="381.90" width="4.09" height="7.22" fill="#3779c4"/>
<rect x="472.68" y="381.90" width="4.09" height="7.22" fill="#3c6aba"/>
<rect x="476.42" y="381.90" width="4.09" height="7.22" fill="#3c5fb2"/>
<rect x="480.15" y="381.90" width="4.09" height="7.22" fill="#3b57ac"/>
<rect x="483.89" y="381.90" width="4.09" height="7.22" fill="#3a50a7"/>
<rect x="487.63" y="381.90" width="4.09" height="7.22" fill="#3a4ca3"/>
<rect x="491.36" y="381.90" width="4.09" height="7.22" fill="#3949a0"/>
<rect x="495.10" y="381.90" width="4.09" height="7.22" fill="#39469e"/>
<rect x="498.84" y="381.90" width="26.51" height="7.22" fill="#39459d"/>
<rect x="453.99" y="388.77" width="4.09" height="7.22" fill="#f0eb3e"/>
<rect x="457.73" y="388.77" width="4.09" height="7.22" fill="#f5de30"/>
<rect x="461.47" y="388.77" width="4.09" height="7.22" fill="#fcc836"/>
<rect x="465.20" y="388.77" width="7.82" height="7.22" fill="#fdbb3e"/>
<rect x="472.68" y="388.77" width="4.09" height="7.22" fill="#3779c4"/>
<rect x="476.42" y="388.77" width="4.09" height="7.22" fill="#3c6aba"/>
<rect x="480.15" y="388.77" width="4.09" height="7.22" fill="#3c5eb1"/>
<rect x="483.89" y="388.77" width="4.09" height="7.22" fill="#3a55aa"/>
<rect x="487.63" y="388.77" width="4.09" height="7.22" fill="#3a4fa5"/>
<rect x="491.36" y="388.77" width="4.09" height="7.22" fill="#394aa1"/>
<rect x="495.10" y="388.77" width="4.09" height="7.22" fill="#39479f"/>
<rect x="498.84" y="388.77" width="26.51" height="7.22" fill="#39459d"/>
<rect x="453.99" y="395.64" width="4.09" height="7.22" fill="#f0eb3e"/>
<rect x="457.73" y="395.64" width="4.09" height="7.22" fill="#f8d532"/>
<rect x="461.47" y="395.64" width="4.09" height="7.22" fill="#fdbe3c"/>
<rect x="465.20" y="395.64" width="4.09" height="7.22" fill="#f2b848"/>
<rect x="468.94" y="395.64" width="4.09" height="7.22" fill="#dfbb4a"/>
<rect x="472.68" y="395.64" width="4.09" height="7.22" fill="#3779c4"/>
<rect x="476.42" y="395.64" width="4.09" height="7.22" fill="#3c6aba"/>
<rect x="480.15" y="395.64" width="4.09" height="7.22" fill="#3c5fb2"/>
<rect x="483.89" y="395.64" width="4.09" height="7.22" fill="#3b56ab"/>
<rect x="487.63" y="395.64" width="4.09" height="7.22" fill="#3a4fa6"/>
<rect x="491.36" y="395.64" width="4.09" height="7.22" fill="#394ba2"/>
<rect x="495.10" y="395.64" width="4.09" height="7.22" fill="#39489f"/>
<rect x="498.84" y="395.64" width="4.09" height="7.22" fill="#39469d"/>
<rect x="502.58" y="395.64" width="22.77" height="7.22" fill="#39459d"/>
<rect x="453.99" y="402.51" width="4.09" height="7.22" fill="#f0eb3e"/>
<rect x="457.73" y="402.51" width="4.09" height="7.22" fill="#f9d134"/>
<rect x="461.47" y="402.51" width="4.09" height="7.22" fill="#fdbb3e"/>
<rect x="465.20" y="402.51" width="4.09" height="7.22" fill="#ecb949"/>
<rect x="468.94" y="402.51" width="4.09" height="7.22" fill="#d2bd4c"/>
<rect x="472.68" y="402.51" width="4.09" height="7.22" fill="#3779c4"/>
<rect x="476.42" y="402.51" width="4.09" height="7.22" fill="#3c6aba"/>
<rect x="480.15" y="402.51" width="4.09" height="7.22" fill="#3c5fb2"/>
<rect x="483.89" y="402.51" width="4.09" height="7.22" fill="#3b56ab"/>
<rect x="487.63" y="402.51" width="4.09" height="7.22" fill="#3a50a6"/>
<rect x="491.36" y="402.51" width="4.09" height="7.22" fill="#3a4ca3"/>
<rect x="495.10" y="402.51" width="4.09" height="7.22" fill="#3948a0"/>
<rect x="498.84" y="402.51" width="4.09" height="7.22" fill="#39469e"/>
<rect x="502.58" y="402.51" width="22.77" height="7.22" fill="#39459d"/>
<rect x="453.99" y="409.39" width="4.09" height="7.22" fill="#f0eb3e"/>
<rect x="457.73" y="409.39" width="4.09" height="7.22" fill="#f9d134"/>
<rect x="461.47" y="409.39" width="4.09" height="7.22" fill="#fdb83f"/>
<rect x="465.20" y="409.39" width="4.09" height="7.22" fill="#e5ba4a"/>
<rect x="468.94" y="409.39" width="4.09" height="7.22" fill="#cabe4e"/>
<rect x="472.68" y="409.39" width="4.09" height="7.22" fill="#3779c4"/>
<rect x="476.42" y="409.39" width="4.09" height="7.22" fill="#3c6aba"/>
<rect x="480.15" y="409.39" width="4.09" height="7.22" fill="#3c5fb2"/>
<rect x="483.89" y="409.39" width="4.09" height="7.22" fill="#3b57ac"/>
<rect x="487.63" y="409.39" width="4.09" height="7.22" fill="#3a50a7"/>
<rect x="491.36" y="409.39" width="4.09" height="7.22" fill="#3a4ca3"/>
<rect x="495.10" y="409.39" width="4.09" height="7.22" fill="#3949a0"/>
<rect x="498.84" y="409.39" width="4.09" height="7.22" fill="#39469e"/>
<rect x="502.58" y="409.39" width="22.77" height="7.22" fill="#39459d"/>
<rect x="453.99" y="416.26" width="4.09" height="7.22" fill="#f2e638"/>
<rect x="457.73" y="416.26" width="4.09" height="7.22" fill="#fcc538"/>
<rect x="461.47" y="416.26" width="4.09" height="7.22" fill="#efb848"/>
<rect x="465.20" y="416.26" width="4.09" height="7.22" fill="#cebd4d"/>
<rect x="468.94" y="416.26" width="4.09" height="7.22" fill="#b0c156"/>
<rect x="472.68" y="416.26" width="4.09" height="7.22" fill="#9bc15f"/>
<rect x="476.42" y="416.26" width="4.09" height="7.22" fill="#3779c4"/>
<rect x="480.15" y="416.26" width="4.09" height="7.22" fill="#3c6aba"/>
<rect x="483.89" y="416.26" width="4.09" height="7.22" fill="#3c5eb1"/>
<rect x="487.63" y="416.26" width="4.09" height="7.22" fill="#3b55aa"/>
<rect x="491.36" y="416.26" width="4.09" height="7.22" fill="#3a4fa5"/>
<rect x="495.10" y="416.26" width="4.09" height="7.22" fill="#394aa2"/>
<rect x="498.84" y="416.26" width="4.09" height="7.22" fill="#39479f"/>
<rect x="502.58" y="416.26" width="22.77" height="7.22" fill="#39459d"/>
<rect x="453.99" y="423.13" width="4.09" height="7.22" fill="#f2e638"/>
<rect x="457.73" y="423.13" width="4.09" height="7.22" fill="#fcc13a"/>
<rect x="461.47" y="423.13" width="4.09" height="7.22" fill="#ecb949"/>
<rect x="465.20" y="423.13" width="4.09" height="7.22" fill="#cabe4e"/>
<rect x="468.94" y="423.13" width="4.09" height="7.22" fill="#acc157"/>
<rect x="472.68" y="423.13" width="4.09" height="7.22" fill="#98c161"/>
<rect x="476.42" y="423.13" width="4.09" height="7.22" fill="#3779c4"/>
<rect x="480.15" y="423.13" width="4.09" height="7.22" fill="#3c6aba"/>
<rect x="483.89" y="423.13" width="4.09" height="7.22" fill="#3c5fb2"/>
<rect x="487.63" y="423.13" width="4.09" height="7.22" fill="#3b56ab"/>
<rect x="491.36" y="423.13" width="4.09" height="7.22" fill="#3a4fa6"/>
<rect x="495.10" y="423.13" width="4.09" height="7.22" fill="#3a4ba2"/>
<rect x="498.84" y="423.13" width="4.09" height="7.22" fill="#39489f"/>
<rect x="502.58" y="423.13" width="4.09" height="7.22" fill="#39469d"/>
<rect x="506.31" y="423.13" width="19.04" height="7.22" fill="#39459d"/>
</g>
<g id="panel-d">
<rect x="334.40" y="237.60" width="190.60" height="192.40" fill="none" stroke="#555555" stroke-width="1.1" />
<line x1="336.27" y1="430.00" x2="336.27" y2="428.00" stroke="#555555" stroke-width="1.0" />
<line x1="336.27" y1="237.60" x2="336.27" y2="239.60" stroke="#555555" stroke-width="1.0" />
<line x1="382.98" y1="430.00" x2="382.98" y2="428.00" stroke="#555555" stroke-width="1.0" />
<line x1="382.98" y1="237.60" x2="382.98" y2="239.60" stroke="#555555" stroke-width="1.0" />
<line x1="429.70" y1="430.00" x2="429.70" y2="428.00" stroke="#555555" stroke-width="1.0" />
<line x1="429.70" y1="237.60" x2="429.70" y2="239.60" stroke="#555555" stroke-width="1.0" />
<line x1="476.42" y1="430.00" x2="476.42" y2="428.00" stroke="#555555" stroke-width="1.0" />
<line x1="476.42" y1="237.60" x2="476.42" y2="239.60" stroke="#555555" stroke-width="1.0" />
<line x1="523.13" y1="430.00" x2="523.13" y2="428.00" stroke="#555555" stroke-width="1.0" />
<line x1="523.13" y1="237.60" x2="523.13" y2="239.60" stroke="#555555" stroke-width="1.0" />
<line x1="334.40" y1="254.78" x2="336.40" y2="254.78" stroke="#555555" stroke-width="1.0" />
<line x1="525.00" y1="254.78" x2="523.00" y2="254.78" stroke="#555555" stroke-width="1.0" />
<line x1="334.40" y1="289.14" x2="336.40" y2="289.14" stroke="#555555" stroke-width="1.0" />
<line x1="525.00" y1="289.14" x2="523.00" y2="289.14" stroke="#555555" stroke-width="1.0" />
<line x1="334.40" y1="323.49" x2="336.40" y2="323.49" stroke="#555555" stroke-width="1.0" />
<line x1="525.00" y1="323.49" x2="523.00" y2="323.49" stroke="#555555" stroke-width="1.0" />
<line x1="334.40" y1="357.85" x2="336.40" y2="357.85" stroke="#555555" stroke-width="1.0" />
<line x1="525.00" y1="357.85" x2="523.00" y2="357.85" stroke="#555555" stroke-width="1.0" />
<line x1="334.40" y1="392.21" x2="336.40" y2="392.21" stroke="#555555" stroke-width="1.0" />
<line x1="525.00" y1="392.21" x2="523.00" y2="392.21" stroke="#555555" stroke-width="1.0" />
<line x1="334.40" y1="426.56" x2="336.40" y2="426.56" stroke="#555555" stroke-width="1.0" />
<line x1="525.00" y1="426.56" x2="523.00" y2="426.56" stroke="#555555" stroke-width="1.0" />
<defs><linearGradient id="cbD" x1="0" y1="1" x2="0" y2="0">
<stop offset="0.0000" stop-color="#39449c"/>
<stop offset="0.0159" stop-color="#39479e"/>
<stop offset="0.0317" stop-color="#3a49a0"/>
<stop offset="0.0476" stop-color="#3a4ca2"/>
<stop offset="0.0635" stop-color="#3a4ea4"/>
<stop offset="0.0794" stop-color="#3b51a6"/>
<stop offset="0.0952" stop-color="#3b53a8"/>
<stop offset="0.1111" stop-color="#3c56aa"/>
<stop offset="0.1270" stop-color="#3c58ac"/>
<stop offset="0.1429" stop-color="#3d5bae"/>
<stop offset="0.1587" stop-color="#3d5db0"/>
<stop offset="0.1746" stop-color="#3e60b2"/>
<stop offset="0.1905" stop-color="#3e62b4"/>
<stop offset="0.2063" stop-color="#3e65b6"/>
<stop offset="0.2222" stop-color="#3e68b7"/>
<stop offset="0.2381" stop-color="#3e6ab9"/>
<stop offset="0.2540" stop-color="#3d6dbb"/>
<stop offset="0.2698" stop-color="#3b71bd"/>
<stop offset="0.2857" stop-color="#3975c0"/>
<stop offset="0.3016" stop-color="#3779c2"/>
<stop offset="0.3175" stop-color="#357ec5"/>
<stop offset="0.3333" stop-color="#3183c7"/>
<stop offset="0.3492" stop-color="#2d88c9"/>
<stop offset="0.3651" stop-color="#298ecc"/>
<stop offset="0.3810" stop-color="#2593cc"/>
<stop offset="0.3968" stop-color="#2198cb"/>
<stop offset="0.4127" stop-color="#1e9dc9"/>
<stop offset="0.4286" stop-color="#1aa2c7"/>
<stop offset="0.4444" stop-color="#1aa7c3"/>
<stop offset="0.4603" stop-color="#20abbc"/>
<stop offset="0.4762" stop-color="#25b0b5"/>
<stop offset="0.4921" stop-color="#2ab4ae"/>
<stop offset="0.5079" stop-color="#34b7a5"/>
<stop offset="0.5238" stop-color="#41b99c"/>
<stop offset="0.5397" stop-color="#4fbc92"/>
<stop offset="0.5556" stop-color="#5cbe88"/>
<stop offset="0.5714" stop-color="#68bf80"/>
<stop offset="0.5873" stop-color="#72c078"/>
<stop offset="0.6032" stop-color="#7cc071"/>
<stop offset="0.6190" stop-color="#86c16a"/>
<stop offset="0.6349" stop-color="#8fc164"/>
<stop offset="0.6508" stop-color="#98c160"/>
<stop offset="0.6667" stop-color="#a1c15c"/>
<stop offset="0.6825" stop-color="#a9c158"/>
<stop offset="0.6984" stop-color="#b3c055"/>
<stop offset="0.7143" stop-color="#bcbf52"/>
<stop offset="0.7302" stop-color="#c6be4f"/>
<stop offset="0.7460" stop-color="#d0bd4d"/>
<stop offset="0.7619" stop-color="#d8bc4b"/>
<stop offset="0.7778" stop-color="#e0bb4a"/>
<stop offset="0.7937" stop-color="#e8ba49"/>
<stop offset="0.8095" stop-color="#f0b848"/>
<stop offset="0.8254" stop-color="#f6b844"/>
<stop offset="0.8413" stop-color="#fcb840"/>
<stop offset="0.8571" stop-color="#fdbe3b"/>
<stop offset="0.8730" stop-color="#fcc737"/>
<stop offset="0.8889" stop-color="#facd35"/>
<stop offset="0.9048" stop-color="#f9d233"/>
<stop offset="0.9206" stop-color="#f7d832"/>
<stop offset="0.9365" stop-color="#f5de30"/>
<stop offset="0.9524" stop-color="#f4e133"/>
<stop offset="0.9683" stop-color="#f3e437"/>
<stop offset="0.9841" stop-color="#f1e83a"/>
<stop offset="1.0000" stop-color="#f0eb3e"/>
</linearGradient></defs>
<rect x="533.40" y="237.60" width="11.20" height="192.40" fill="url(#cbD)" stroke="#555555" stroke-width="1.0" />
<text x="549.20" y="433.20" font-size="11.2" text-anchor="start" fill="#2a2a2a" textLength="6.60" lengthAdjust="spacingAndGlyphs" >0</text>
<line x1="544.60" y1="405.95" x2="542.60" y2="405.95" stroke="#555555" stroke-width="1.0" />
<text x="549.20" y="409.15" font-size="11.2" text-anchor="start" fill="#2a2a2a" textLength="6.60" lengthAdjust="spacingAndGlyphs" >1</text>
<line x1="544.60" y1="381.90" x2="542.60" y2="381.90" stroke="#555555" stroke-width="1.0" />
<text x="549.20" y="385.10" font-size="11.2" text-anchor="start" fill="#2a2a2a" textLength="6.60" lengthAdjust="spacingAndGlyphs" >2</text>
<line x1="544.60" y1="357.85" x2="542.60" y2="357.85" stroke="#555555" stroke-width="1.0" />
<text x="549.20" y="361.05" font-size="11.2" text-anchor="start" fill="#2a2a2a" textLength="6.60" lengthAdjust="spacingAndGlyphs" >3</text>
<line x1="544.60" y1="333.80" x2="542.60" y2="333.80" stroke="#555555" stroke-width="1.0" />
<text x="549.20" y="337.00" font-size="11.2" text-anchor="start" fill="#2a2a2a" textLength="6.60" lengthAdjust="spacingAndGlyphs" >4</text>
<line x1="544.60" y1="309.75" x2="542.60" y2="309.75" stroke="#555555" stroke-width="1.0" />
<text x="549.20" y="312.95" font-size="11.2" text-anchor="start" fill="#2a2a2a" textLength="6.60" lengthAdjust="spacingAndGlyphs" >5</text>
<line x1="544.60" y1="285.70" x2="542.60" y2="285.70" stroke="#555555" stroke-width="1.0" />
<text x="549.20" y="288.90" font-size="11.2" text-anchor="start" fill="#2a2a2a" textLength="6.60" lengthAdjust="spacingAndGlyphs" >6</text>
<line x1="544.60" y1="261.65" x2="542.60" y2="261.65" stroke="#555555" stroke-width="1.0" />
<text x="549.20" y="264.85" font-size="11.2" text-anchor="start" fill="#2a2a2a" textLength="6.60" lengthAdjust="spacingAndGlyphs" >7</text>
<text x="549.20" y="240.80" font-size="11.2" text-anchor="start" fill="#2a2a2a" textLength="6.60" lengthAdjust="spacingAndGlyphs" >8</text>
<text x="331.40" y="257.78" font-size="11.3" text-anchor="end" fill="#2a2a2a" textLength="16.97" lengthAdjust="spacingAndGlyphs" >0.5</text>
<text x="329.80" y="292.14" font-size="11.3" text-anchor="end" fill="#2a2a2a" textLength="6.79" lengthAdjust="spacingAndGlyphs" >1</text>
<text x="331.40" y="326.49" font-size="11.3" text-anchor="end" fill="#2a2a2a" textLength="16.97" lengthAdjust="spacingAndGlyphs" >1.5</text>
<text x="329.80" y="360.85" font-size="11.3" text-anchor="end" fill="#2a2a2a" textLength="6.79" lengthAdjust="spacingAndGlyphs" >2</text>
<text x="331.40" y="395.21" font-size="11.3" text-anchor="end" fill="#2a2a2a" textLength="16.97" lengthAdjust="spacingAndGlyphs" >2.5</text>
<text x="329.80" y="429.56" font-size="11.3" text-anchor="end" fill="#2a2a2a" textLength="6.79" lengthAdjust="spacingAndGlyphs" >3</text>
<text x="336.87" y="443.80" font-size="11.2" text-anchor="middle" fill="#2a2a2a" textLength="6.60" lengthAdjust="spacingAndGlyphs" >0</text>
<text x="383.58" y="443.80" font-size="11.2" text-anchor="middle" fill="#2a2a2a" textLength="13.21" lengthAdjust="spacingAndGlyphs" >10</text>
<text x="430.30" y="443.80" font-size="11.2" text-anchor="middle" fill="#2a2a2a" textLength="13.21" lengthAdjust="spacingAndGlyphs" >20</text>
<text x="477.02" y="443.80" font-size="11.2" text-anchor="middle" fill="#2a2a2a" textLength="13.21" lengthAdjust="spacingAndGlyphs" >30</text>
<text x="523.73" y="443.80" font-size="11.2" text-anchor="middle" fill="#2a2a2a" textLength="13.21" lengthAdjust="spacingAndGlyphs" >40</text>
<text x="306.40" y="340.00" font-size="12.4" text-anchor="middle" fill="#2a2a2a" transform="rotate(-90 306.40 340.00)" textLength="102.30" lengthAdjust="spacingAndGlyphs" >relative amplitude</text>
<text x="439.90" y="458.60" font-size="12.6" text-anchor="middle" fill="#2a2a2a" textLength="41.60" lengthAdjust="spacingAndGlyphs" ><tspan font-family="Liberation Serif, serif" font-size="13.4">Δ</tspan>T [ns]</text>
<text x="377.70" y="369.40" font-size="12.3" text-anchor="middle" fill="#111" textLength="77.00" lengthAdjust="spacingAndGlyphs" >Second peak</text>
<text x="572.50" y="326.00" font-size="12.6" text-anchor="middle" fill="#2a2a2a" transform="rotate(-90 572.50 326.00)" textLength="54.50" lengthAdjust="spacingAndGlyphs" >Error [ns]</text>
<line x1="430.40" y1="288.90" x2="454.30" y2="288.90" stroke="#e3202b" stroke-width="1.9" />
<line x1="442.60" y1="277.40" x2="442.60" y2="300.90" stroke="#e3202b" stroke-width="1.9" />
<text x="426.20" y="292.40" font-size="10.3" text-anchor="end" fill="#111" textLength="55.30" lengthAdjust="spacingAndGlyphs" ><tspan font-family="Liberation Serif, serif">Δ</tspan>T=23.2 ns</text>
<line x1="476.10" y1="412.70" x2="476.10" y2="436.80" stroke="#e3202b" stroke-width="1.9" />
<text x="472.30" y="424.30" font-size="10.3" text-anchor="end" fill="#111" textLength="54.80" lengthAdjust="spacingAndGlyphs" ><tspan font-family="Liberation Serif, serif">Δ</tspan>T=30.4 ns</text>
</g>
</svg></body></html>
